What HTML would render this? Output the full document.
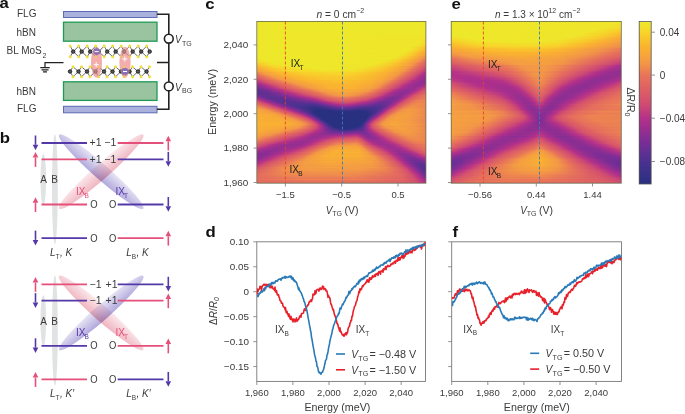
<!DOCTYPE html><html><head><meta charset="utf-8"><style>
html,body{margin:0;padding:0;background:#fff;width:685px;height:414px;overflow:hidden}
#w{position:relative;width:685px;height:414px}
.hm{position:absolute}
.hm i{display:block;height:1px}
svg{position:absolute;left:0;top:0}
text{font-family:"Liberation Sans",sans-serif}
</style></head><body><div id="w"><div class="hm" style="left:257px;top:21px;width:169px;height:162px"><i style="background:linear-gradient(90deg,#eee82a 0.5px,#eee82a 168.5px)"></i><i style="background:linear-gradient(90deg,#eee82a 0.5px,#eee82a 168.5px)"></i><i style="background:linear-gradient(90deg,#eee82a 0.5px,#eee82a 168.5px)"></i><i style="background:linear-gradient(90deg,#eee82a 0.5px,#eee82a 168.5px)"></i><i style="background:linear-gradient(90deg,#eee82a 0.5px,#eee82a 168.5px)"></i><i style="background:linear-gradient(90deg,#eee82a 0.5px,#eee82a 168.5px)"></i><i style="background:linear-gradient(90deg,#eee82a 0.5px,#eee82a 168.5px)"></i><i style="background:linear-gradient(90deg,#eee82a 0.5px,#eee82a 168.5px)"></i><i style="background:linear-gradient(90deg,#eee82a 0.5px,#eee82a 168.5px)"></i><i style="background:linear-gradient(90deg,#eee82a 0.5px,#eee82a 168.5px)"></i><i style="background:linear-gradient(90deg,#eee82a 0.5px,#eee82a 168.5px)"></i><i style="background:linear-gradient(90deg,#eee82a 0.5px,#eee82a 168.5px)"></i><i style="background:linear-gradient(90deg,#eee82a 0.5px,#eee82a 168.5px)"></i><i style="background:linear-gradient(90deg,#eee82a 0.5px,#efe52a 168.5px)"></i><i style="background:linear-gradient(90deg,#eee82a 0.5px,#efe62a 168.5px)"></i><i style="background:linear-gradient(90deg,#eee82a 0.5px,#efe62a 168.5px)"></i><i style="background:linear-gradient(90deg,#eee82a 0.5px,#efe62a 165.5px,#f1e22a 168.5px)"></i><i style="background:linear-gradient(90deg,#eee82a 0.5px,#efe52a 166.5px,#f1e22a 168.5px)"></i><i style="background:linear-gradient(90deg,#eee82a 0.5px,#efe62a 163.5px,#f3de2a 168.5px)"></i><i style="background:linear-gradient(90deg,#eee82a 0.5px,#efe62a 163.5px,#f3dd2a 168.5px)"></i><i style="background:linear-gradient(90deg,#eee82a 0.5px,#efe62a 161.5px,#f5da2a 168.5px)"></i><i style="background:linear-gradient(90deg,#eee82a 0.5px,#efe62a 162.5px,#f5da2a 168.5px)"></i><i style="background:linear-gradient(90deg,#eee82a 0.5px,#efe52a 160.5px,#f7d52a 168.5px)"></i><i style="background:linear-gradient(90deg,#eee82a 0.5px,#efe62a 160.5px,#f7d52a 168.5px)"></i><i style="background:linear-gradient(90deg,#eee82a 0.5px,#efe52a 159.5px,#f8d02b 168.5px)"></i><i style="background:linear-gradient(90deg,#eee82a 0.5px,#efe62a 157.5px,#f8cd2b 167.5px,#f8c92b 168.5px)"></i><i style="background:linear-gradient(90deg,#eee82a 0.5px,#efe62a 153.5px,#f8cc2b 164.5px,#fabe2d 168.5px)"></i><i style="background:linear-gradient(90deg,#eee82a 0.5px,#efe52a 154.5px,#f8cc2b 164.5px,#fabc2d 168.5px)"></i><i style="background:linear-gradient(90deg,#eee82a 0.5px,#efe72a 152.5px,#f8ca2b 163.5px,#fbb62e 168.5px)"></i><i style="background:linear-gradient(90deg,#eee82a 0.5px,#efe62a 151.5px,#f8cc2b 161.5px,#fab231 168.5px)"></i><i style="background:linear-gradient(90deg,#eee82a 0.5px,#efe62a 148.5px,#f8c92b 159.5px,#fab032 166.5px,#f8aa37 168.5px)"></i><i style="background:linear-gradient(90deg,#eee82a 0.5px,#efe62a 147.5px,#f8c92b 158.5px,#fab032 165.5px,#f7a73a 168.5px)"></i><i style="background:linear-gradient(90deg,#eee82a 0.5px,#efe52a 145.5px,#f8cc2b 155.5px,#fab032 163.5px,#f5a23e 168.5px)"></i><i style="background:linear-gradient(90deg,#eee82a 0.5px,#efe52a 143.5px,#f8ca2b 154.5px,#f9af33 162.5px,#f49d42 168.5px)"></i><i style="background:linear-gradient(90deg,#eee82a 0.5px,#efe72a 142.5px,#f8cb2b 153.5px,#f9b033 161.5px,#f39b44 168.5px)"></i><i style="background:linear-gradient(90deg,#eee82a 0.5px,#efe52a 139.5px,#f8cb2b 150.5px,#fab032 158.5px,#f19448 167.5px,#f08e4b 168.5px)"></i><i style="background:linear-gradient(90deg,#eee82a 0.5px,#efe62a 137.5px,#f8ca2b 149.5px,#f9b033 157.5px,#f19448 166.5px,#ee884f 168.5px)"></i><i style="background:linear-gradient(90deg,#eee82a 0.5px,#efe72a 135.5px,#f8cc2b 147.5px,#f9af33 156.5px,#f19448 165.5px,#ec8152 168.5px)"></i><i style="background:linear-gradient(90deg,#f1e22a 0.5px,#eee82a 8.5px,#efe62a 131.5px,#f8cb2b 144.5px,#fab032 153.5px,#f29846 162.5px,#e8745a 168.5px)"></i><i style="background:linear-gradient(90deg,#f3de2a 0.5px,#eee82a 9.5px,#efe62a 129.5px,#f8cc2b 142.5px,#f9af33 152.5px,#f29747 161.5px,#e6705c 168.5px)"></i><i style="background:linear-gradient(90deg,#f5d92a 0.5px,#eee82a 12.5px,#efe62a 126.5px,#f8cc2b 140.5px,#fab032 150.5px,#f29548 160.5px,#e66f5c 167.5px,#e46c5e 168.5px)"></i><i style="background:linear-gradient(90deg,#f7d32a 0.5px,#eee82a 15.5px,#efe62a 123.5px,#f8cb2b 138.5px,#fab132 148.5px,#f29746 158.5px,#e7715b 165.5px,#e16761 168.5px)"></i><i style="background:linear-gradient(90deg,#f9c82c 0.5px,#f2e02a 13.5px,#eee82a 24.5px,#efe62a 118.5px,#f8ca2b 135.5px,#f9af33 146.5px,#f29647 156.5px,#e7715b 163.5px,#de6164 168.5px)"></i><i style="background:linear-gradient(90deg,#f9c42c 0.5px,#f4dc2a 12.5px,#eee82a 26.5px,#efe52a 117.5px,#f8c92b 134.5px,#f9b033 145.5px,#f29846 155.5px,#e56f5d 163.5px,#dc5e66 168.5px)"></i><i style="background:linear-gradient(90deg,#fabf2d 0.5px,#f4da2a 13.5px,#eee82a 28.5px,#efe52a 115.5px,#f8c92b 133.5px,#fab032 144.5px,#f39945 154.5px,#e66f5c 162.5px,#da5b68 168.5px)"></i><i style="background:linear-gradient(90deg,#fab230 0.5px,#f6d82a 19.5px,#eee82a 43.5px,#efe52a 106.5px,#f8cb2b 126.5px,#f9b033 140.5px,#f29846 151.5px,#e6705c 159.5px,#d5526d 168.5px)"></i><i style="background:linear-gradient(90deg,#fab132 0.5px,#f6d72a 19.5px,#eee82a 43.5px,#efe52a 106.5px,#f8cc2b 126.5px,#fab032 140.5px,#f29846 151.5px,#e66f5c 159.5px,#d4506e 168.5px)"></i><i style="background:linear-gradient(90deg,#f8aa37 0.5px,#fabf2d 10.5px,#f5d92a 27.5px,#eee82a 58.5px,#efe52a 99.5px,#f8ce2b 121.5px,#f9af33 138.5px,#f39946 149.5px,#e6705c 157.5px,#d24e70 167.5px,#cc4974 168.5px)"></i><i style="background:linear-gradient(90deg,#f6a43d 0.5px,#fabc2d 13.5px,#f6d72a 32.5px,#f0e52a 69.5px,#f2e02a 98.5px,#f8cc2b 118.5px,#fab032 135.5px,#f39946 147.5px,#e6705c 155.5px,#d4506e 165.5px,#c4417b 168.5px)"></i><i style="background:linear-gradient(90deg,#f5a23e 0.5px,#fabb2d 13.5px,#f6d72a 31.5px,#efe52a 67.5px,#f1e12a 97.5px,#f8cc2b 119.5px,#fab032 136.5px,#f39945 147.5px,#e6705c 155.5px,#d14e70 165.5px,#c23f7d 168.5px)"></i><i style="background:linear-gradient(90deg,#f39a45 0.5px,#fbb82e 16.5px,#f7d42a 36.5px,#f2df2a 74.5px,#f5d92a 101.5px,#faba2d 126.5px,#f5a040 142.5px,#f08e4b 147.5px,#e6705c 153.5px,#d24e6f 163.5px,#ba3684 168.5px)"></i><i style="background:linear-gradient(90deg,#ee884e 0.5px,#f49c43 5.5px,#fbb82e 22.5px,#f8d02b 44.5px,#f5d82a 81.5px,#f8cf2b 103.5px,#fab132 128.5px,#f39945 142.5px,#e56e5d 151.5px,#d14e70 161.5px,#af308b 168.5px)"></i><i style="background:linear-gradient(90deg,#eb7f53 0.5px,#f49d43 7.5px,#fbb82e 24.5px,#f8cf2b 46.5px,#f6d72a 83.5px,#f8cc2b 105.5px,#fab032 128.5px,#f39a45 141.5px,#e66f5c 150.5px,#d24e70 160.5px,#b0308b 167.5px,#aa2f8c 168.5px)"></i><i style="background:linear-gradient(90deg,#e8735a 0.5px,#f49c44 9.5px,#fbb82e 27.5px,#f8cd2b 49.5px,#f7d42a 87.5px,#f9c12c 113.5px,#f9ae34 129.5px,#f39a45 140.5px,#e7715b 148.5px,#d04c71 159.5px,#af308b 166.5px,#a42f8d 168.5px)"></i><i style="background:linear-gradient(90deg,#e46c5e 0.5px,#e97857 4.5px,#f39b44 12.5px,#fbb62e 31.5px,#f8ca2b 55.5px,#f8cd2b 92.5px,#fab131 123.5px,#f39a45 138.5px,#e7715b 146.5px,#d14d70 157.5px,#b1308a 164.5px,#9c2f8f 168.5px)"></i><i style="background:linear-gradient(90deg,#e06662 0.5px,#e97758 6.5px,#f49c43 15.5px,#fbb72e 34.5px,#f8ca2b 58.5px,#f8cb2b 93.5px,#fab131 123.5px,#f39a45 137.5px,#e7715b 145.5px,#d04c71 156.5px,#b2308a 163.5px,#982f90 168.5px)"></i><i style="background:linear-gradient(90deg,#dc5e66 0.5px,#ea7b56 10.5px,#f39b44 18.5px,#fbb62e 39.5px,#f9c72c 66.5px,#f9c52c 96.5px,#fab032 121.5px,#f39945 135.5px,#e7715b 143.5px,#d14d71 154.5px,#b3308a 161.5px,#922e91 168.5px)"></i><i style="background:linear-gradient(90deg,#d8576a 0.5px,#ea7957 12.5px,#f49c43 21.5px,#fbb72e 42.5px,#f9c72c 70.5px,#f9c32c 98.5px,#f9af33 121.5px,#f39946 134.5px,#e6705c 142.5px,#d04c72 153.5px,#b2308a 160.5px,#912e92 168.5px)"></i><i style="background:linear-gradient(90deg,#d4506e 0.5px,#e97758 14.5px,#f39b44 23.5px,#fbb62e 44.5px,#f9c62c 71.5px,#f9c22c 99.5px,#f9b032 120.5px,#f39846 133.5px,#e66f5c 141.5px,#ce4a73 152.5px,#b1308a 159.5px,#942e91 167.5px,#912e91 168.5px)"></i><i style="background:linear-gradient(90deg,#c6437a 0.5px,#d7546b 5.5px,#ea7a56 19.5px,#f39c44 28.5px,#fab330 49.5px,#fabf2d 77.5px,#fbb82e 103.5px,#f7a73a 123.5px,#f19448 131.5px,#e6705c 138.5px,#d04c71 149.5px,#b3308a 156.5px,#942e91 164.5px,#8c2e93 168.5px)"></i><i style="background:linear-gradient(90deg,#bd3a82 0.5px,#d6546c 7.5px,#ea7857 21.5px,#f49c43 31.5px,#fbb42f 53.5px,#fac02d 78.5px,#fbb92e 103.5px,#f7a73a 122.5px,#f39846 129.5px,#e6705c 137.5px,#cf4b72 148.5px,#b2308a 155.5px,#962e91 163.5px,#902e92 168.5px)"></i><i style="background:linear-gradient(90deg,#b0308b 0.5px,#d6536c 10.5px,#ea7b56 25.5px,#f49c43 35.5px,#fab32f 58.5px,#fabc2d 85.5px,#f9af33 112.5px,#f39b44 126.5px,#e6705c 135.5px,#cf4b72 146.5px,#b2308a 153.5px,#962e91 161.5px,#912e92 167.5px,#932e91 168.5px)"></i><i style="background:linear-gradient(90deg,#a32f8d 0.5px,#b83486 4.5px,#d5526d 12.5px,#e97758 27.5px,#f39b44 37.5px,#fbb42f 61.5px,#fabc2d 88.5px,#f9ae34 112.5px,#f39b44 125.5px,#e56e5d 134.5px,#d14d71 144.5px,#b0308b 152.5px,#962e90 160.5px,#942e91 165.5px,#9c2f8f 168.5px)"></i><i style="background:linear-gradient(90deg,#922e91 0.5px,#b63387 7.5px,#d6536c 16.5px,#e97758 31.5px,#f39b44 42.5px,#fbb42f 69.5px,#fbb52e 95.5px,#f6a63b 116.5px,#f29548 124.5px,#e7705b 131.5px,#cf4c72 142.5px,#b2308a 149.5px,#962e90 157.5px,#912e91 163.5px,#a32f8e 168.5px)"></i><i style="background:linear-gradient(90deg,#872e94 0.5px,#b43189 9.5px,#d6546c 19.5px,#e97758 34.5px,#f39c44 45.5px,#fab330 70.5px,#fbb42f 95.5px,#f6a53b 115.5px,#f29846 122.5px,#e66f5c 130.5px,#d14e70 140.5px,#b0308b 148.5px,#982e90 155.5px,#932e91 161.5px,#a42f8d 166.5px,#b0308b 168.5px)"></i><i style="background:linear-gradient(90deg,#7c2d96 0.5px,#b53288 12.5px,#d6546c 22.5px,#e97758 37.5px,#f39b44 48.5px,#fab230 71.5px,#fab330 96.5px,#f6a33d 115.5px,#f29547 121.5px,#e7705b 128.5px,#ce4b73 139.5px,#b1308a 146.5px,#992f90 153.5px,#942e91 159.5px,#a52f8d 164.5px,#b63388 167.5px,#ba3784 168.5px)"></i><i style="background:linear-gradient(90deg,#752e95 0.5px,#b43189 14.5px,#d6536c 24.5px,#ea7857 40.5px,#f39b44 51.5px,#fab231 71.5px,#fbb32f 95.5px,#f6a53c 113.5px,#f19548 120.5px,#e6705c 127.5px,#d14d71 137.5px,#af308b 145.5px,#992f90 152.5px,#982f90 158.5px,#ad308b 163.5px,#bc3982 166.5px,#c6437a 168.5px)"></i><i style="background:linear-gradient(90deg,#6d2e94 0.5px,#8f2e92 9.5px,#b43189 17.5px,#d5536d 27.5px,#e97758 43.5px,#f49c43 55.5px,#fab032 72.5px,#fab231 95.5px,#f5a13f 113.5px,#f29548 118.5px,#e56e5d 126.5px,#d24e70 135.5px,#b0308b 143.5px,#992f90 150.5px,#982e90 156.5px,#ac308c 161.5px,#bc3982 164.5px,#d04c71 168.5px)"></i><i style="background:linear-gradient(90deg,#612f93 0.5px,#8a2e93 12.5px,#b73487 22.5px,#d6536c 32.5px,#ea7b56 50.5px,#f49d43 61.5px,#f8ac35 78.5px,#f8aa37 98.5px,#f39946 113.5px,#e56e5d 123.5px,#ce4a73 133.5px,#b3308a 139.5px,#962e90 146.5px,#8f2e92 153.5px,#9f2f8f 158.5px,#b73487 162.5px,#d5516d 168.5px)"></i><i style="background:linear-gradient(90deg,#5e2f92 0.5px,#7f2d96 12.5px,#b4318a 24.5px,#d6536c 35.5px,#ea7957 53.5px,#f49c44 63.5px,#f8ab36 80.5px,#f7a839 98.5px,#f39946 111.5px,#e46c5e 122.5px,#d04c72 131.5px,#af308b 138.5px,#942e91 145.5px,#902e92 152.5px,#a42f8d 157.5px,#b73387 160.5px,#d5526d 166.5px,#d95869 168.5px)"></i><i style="background:linear-gradient(90deg,#5e2f92 0.5px,#782d95 12.5px,#b53288 27.5px,#d6546c 38.5px,#e97658 55.5px,#f49c43 65.5px,#f8ac36 83.5px,#f6a43c 101.5px,#f29846 110.5px,#e56e5d 120.5px,#d34f6f 129.5px,#b3308a 136.5px,#962e90 143.5px,#922e91 150.5px,#a52f8d 155.5px,#b83486 158.5px,#d6536c 164.5px,#dd6065 168.5px)"></i><i style="background:linear-gradient(90deg,#573092 0.5px,#672f93 11.5px,#8b2e93 22.5px,#b63388 32.5px,#d6546c 43.5px,#e97658 60.5px,#f39a45 70.5px,#f6a53c 88.5px,#f29647 105.5px,#e46c5e 117.5px,#d34f6f 126.5px,#b2308a 133.5px,#912e92 140.5px,#882e94 146.5px,#912e92 151.5px,#b73487 157.5px,#d6536c 163.5px,#de6264 168.5px)"></i><i style="background:linear-gradient(90deg,#5c3092 0.5px,#612f93 9.5px,#7e2d96 21.5px,#b73487 35.5px,#d5526d 45.5px,#e97559 62.5px,#f29747 71.5px,#f6a33d 86.5px,#f39946 101.5px,#ec8352 109.5px,#e56d5d 115.5px,#d14d71 125.5px,#af308b 132.5px,#912e92 139.5px,#8a2e93 145.5px,#922e91 149.5px,#b1308a 154.5px,#d4516e 160.5px,#e26960 168.5px)"></i><i style="background:linear-gradient(90deg,#642f93 0.5px,#5d3092 7.5px,#6d2e94 18.5px,#8c2e93 28.5px,#b53288 38.5px,#d5526d 49.5px,#e97659 65.5px,#f0914a 73.5px,#f49e42 82.5px,#f39b44 95.5px,#eb7f53 107.5px,#e46c5e 113.5px,#d14d70 123.5px,#af308b 130.5px,#902e92 137.5px,#882e93 143.5px,#902e92 147.5px,#b63388 153.5px,#d4506e 158.5px,#e46c5e 167.5px,#e56d5d 168.5px)"></i><i style="background:linear-gradient(90deg,#712e95 0.5px,#602f93 7.5px,#692f94 18.5px,#862e94 29.5px,#b63388 41.5px,#d6546c 54.5px,#e97857 68.5px,#f29647 79.5px,#f49c43 89.5px,#f1914a 97.5px,#dc5f66 116.5px,#ce4a73 122.5px,#b2308a 128.5px,#912e92 135.5px,#892e93 141.5px,#942e91 146.5px,#b63388 151.5px,#d4516e 156.5px,#e56e5d 165.5px,#e8725a 168.5px)"></i><i style="background:linear-gradient(90deg,#7e2d96 0.5px,#632f93 7.5px,#5f2f92 15.5px,#712e95 26.5px,#952e91 37.5px,#b53288 45.5px,#d95969 60.5px,#ee884f 79.5px,#f1914a 88.5px,#ec8351 97.5px,#d8566a 116.5px,#cc4875 120.5px,#af308b 126.5px,#8e2e92 133.5px,#842d94 139.5px,#8f2e92 144.5px,#b1308a 149.5px,#d6536c 155.5px,#e56e5d 163.5px,#e97659 168.5px)"></i><i style="background:linear-gradient(90deg,#8d2e92 0.5px,#6a2f94 7.5px,#5b3092 14.5px,#642f93 25.5px,#842d95 37.5px,#b53288 51.5px,#d8576a 63.5px,#e7715b 76.5px,#ec8252 87.5px,#e97758 95.5px,#d95869 112.5px,#cc4875 117.5px,#b0308b 123.5px,#8c2e93 130.5px,#7f2d96 136.5px,#842d94 141.5px,#9a2f90 145.5px,#b3308a 148.5px,#d4516e 153.5px,#e46d5e 161.5px,#e97758 168.5px)"></i><i style="background:linear-gradient(90deg,#a22f8e 0.5px,#762e95 7.5px,#5e2f92 14.5px,#5c3092 23.5px,#712e95 35.5px,#992f90 47.5px,#b63388 56.5px,#d6536c 65.5px,#e46c5e 78.5px,#e8725a 90.5px,#d8576a 109.5px,#cc4875 114.5px,#ad308b 121.5px,#862d94 129.5px,#7b2d96 135.5px,#842d95 140.5px,#a62f8d 145.5px,#b73487 147.5px,#d6546c 152.5px,#e66f5c 160.5px,#ea7b56 168.5px)"></i><i style="background:linear-gradient(90deg,#b63387 0.5px,#762e95 10.5px,#5d2f92 17.5px,#5a3092 26.5px,#6e2e94 38.5px,#932e91 51.5px,#b3308a 59.5px,#d5526d 68.5px,#e36a5f 83.5px,#e16861 94.5px,#d24e6f 109.5px,#af308b 118.5px,#832d95 127.5px,#792d95 133.5px,#7f2d95 138.5px,#982f90 142.5px,#b4318a 145.5px,#d5526d 150.5px,#e66f5c 158.5px,#eb7e54 166.5px,#eb7e54 168.5px)"></i><i style="background:linear-gradient(90deg,#ca4677 0.5px,#b43189 4.5px,#792d96 13.5px,#602f93 20.5px,#5c3092 29.5px,#6f2e94 41.5px,#922e91 55.5px,#b43189 62.5px,#d5526d 71.5px,#e06662 85.5px,#dc5f66 96.5px,#cf4b72 107.5px,#ae308b 116.5px,#802d95 126.5px,#792d96 132.5px,#842d95 137.5px,#a92f8c 142.5px,#b3308a 143.5px,#d6536c 148.5px,#eb7d54 159.5px,#ed8650 166.5px,#ed8550 168.5px)"></i><i style="background:linear-gradient(90deg,#d5516d 0.5px,#af308b 7.5px,#792d95 15.5px,#5c3092 22.5px,#553091 30.5px,#602f93 41.5px,#7e2d96 56.5px,#b63387 67.5px,#d4506e 77.5px,#da5b68 88.5px,#d04c71 99.5px,#b43189 110.5px,#772d95 124.5px,#712e95 130.5px,#7a2d96 135.5px,#962e91 139.5px,#b3308a 142.5px,#d6536c 147.5px,#e7725b 155.5px,#ec8252 161.5px,#ec8152 168.5px)"></i><i style="background:linear-gradient(90deg,#db5c67 0.5px,#d14d71 4.5px,#af308b 10.5px,#782d95 18.5px,#5b3092 25.5px,#523091 33.5px,#662f93 53.5px,#7c2d96 60.5px,#b63388 71.5px,#d34f6f 83.5px,#d24e70 92.5px,#af308b 107.5px,#752e95 121.5px,#6c2e94 127.5px,#762e95 133.5px,#902e92 137.5px,#b73487 141.5px,#d5516d 145.5px,#e7725b 153.5px,#ed8451 159.5px,#ed8451 167.5px,#ec8352 168.5px)"></i><i style="background:linear-gradient(90deg,#e16761 0.5px,#d24e70 7.5px,#b0308b 13.5px,#782d95 21.5px,#5a3092 28.5px,#513091 36.5px,#5e2f92 56.5px,#7e2d96 64.5px,#b0308b 74.5px,#c74479 84.5px,#c5417b 92.5px,#ae308b 101.5px,#912e92 110.5px,#6e2e94 120.5px,#682f93 126.5px,#772d95 132.5px,#952e91 136.5px,#b43189 139.5px,#d4506e 143.5px,#eb7c55 153.5px,#ef8b4d 159.5px,#ed8550 168.5px)"></i><i style="background:linear-gradient(90deg,#e6705c 0.5px,#d04d71 10.5px,#ad308b 16.5px,#752e95 24.5px,#573092 31.5px,#4d3190 39.5px,#4e3191 56.5px,#652f93 63.5px,#872e94 70.5px,#b2308a 81.5px,#b83585 89.5px,#ad308b 95.5px,#912e92 104.5px,#6e2e94 115.5px,#602f93 123.5px,#6b2e94 129.5px,#842d94 133.5px,#b73487 138.5px,#d6536c 142.5px,#ec7f53 152.5px,#ef8c4c 158.5px,#ed8451 168.5px)"></i><i style="background:linear-gradient(90deg,#eb7d55 0.5px,#e36a5f 5.5px,#d04c71 13.5px,#b43189 18.5px,#792d96 26.5px,#583092 33.5px,#4a3190 40.5px,#44318d 57.5px,#523091 63.5px,#862e94 75.5px,#a32f8e 84.5px,#a32f8e 90.5px,#7d2d96 103.5px,#5a3092 119.5px,#5e2f92 125.5px,#6e2e94 129.5px,#872e94 132.5px,#b2308a 136.5px,#d4506e 140.5px,#ec8053 150.5px,#f08f4b 156.5px,#ee884f 166.5px,#ed8551 168.5px)"></i><i style="background:linear-gradient(90deg,#ee894e 0.5px,#e56f5d 6.5px,#d34f6f 15.5px,#b1308b 21.5px,#762e95 29.5px,#503191 37.5px,#44318d 46.5px,#3b3189 58.5px,#4a3190 66.5px,#832d95 81.5px,#8c2e93 87.5px,#802d95 94.5px,#682f94 102.5px,#513091 117.5px,#543091 123.5px,#642f93 127.5px,#872e94 131.5px,#b53288 135.5px,#d5526d 139.5px,#ec8152 149.5px,#f08f4b 155.5px,#ed8550 166.5px,#ec8252 168.5px)"></i><i style="background:linear-gradient(90deg,#f39945 0.5px,#e56d5d 10.5px,#cf4b72 19.5px,#b2308a 24.5px,#772e95 32.5px,#503191 40.5px,#353086 57.5px,#3d318a 65.5px,#742e95 83.5px,#772d95 89.5px,#622f93 97.5px,#563091 103.5px,#4b3190 116.5px,#523091 122.5px,#652f93 126.5px,#8d2e93 130.5px,#b2308a 133.5px,#d5516d 137.5px,#ed8550 147.5px,#f19448 153.5px,#f08e4c 163.5px,#ed8650 168.5px)"></i><i style="background:linear-gradient(90deg,#f49e41 0.5px,#f0914a 5.5px,#e6705c 12.5px,#d4506e 21.5px,#b0308b 27.5px,#742e95 35.5px,#4c3190 43.5px,#2e3083 57.5px,#323085 65.5px,#5b3092 82.5px,#602f93 89.5px,#45318d 101.5px,#44318d 116.5px,#503191 122.5px,#6c2e94 126.5px,#8f2e92 129.5px,#b63388 132.5px,#d6546c 136.5px,#ee884f 146.5px,#f29647 152.5px,#ef8d4c 163.5px,#ed8451 168.5px)"></i><i style="background:linear-gradient(90deg,#f6a53c 0.5px,#f29647 8.5px,#e56f5d 16.5px,#d04c71 25.5px,#b3308a 30.5px,#762e95 38.5px,#47318f 47.5px,#2b3081 58.5px,#2c3082 66.5px,#4e3190 86.5px,#41318c 96.5px,#3a3188 102.5px,#43318d 116.5px,#4f3191 121.5px,#702e94 125.5px,#962e90 128.5px,#b2308a 130.5px,#d6536c 134.5px,#ea7a56 141.5px,#f19548 146.5px,#f49c43 152.5px,#f19249 163.5px,#ee894e 168.5px)"></i><i style="background:linear-gradient(90deg,#f7a839 0.5px,#f39945 10.5px,#e56e5d 19.5px,#cf4b72 28.5px,#b1308a 33.5px,#742e95 41.5px,#44318d 49.5px,#283080 57.5px,#2b3081 72.5px,#3d318a 86.5px,#323085 96.5px,#2c3082 102.5px,#3d318a 115.5px,#4b3190 120.5px,#6f2e94 124.5px,#982f90 127.5px,#b53288 129.5px,#d34f6f 132.5px,#ed8551 141.5px,#f39945 146.5px,#f39a45 157.5px,#ee884f 168.5px)"></i><i style="background:linear-gradient(90deg,#f7a938 0.5px,#f39b44 12.5px,#ea7957 19.5px,#d34f6f 30.5px,#af308b 36.5px,#772d95 43.5px,#45318d 50.5px,#283080 57.5px,#2b3082 82.5px,#2b3081 91.5px,#293081 108.5px,#49318f 119.5px,#702e94 123.5px,#8b2e93 125.5px,#b83586 128.5px,#d5526d 131.5px,#ea7a56 138.5px,#f29548 143.5px,#f49c43 150.5px,#f19249 161.5px,#ed8650 168.5px)"></i><i style="background:linear-gradient(90deg,#f8ac36 0.5px,#f49e41 14.5px,#f1914a 18.5px,#e56e5d 25.5px,#d4506e 33.5px,#b0308b 39.5px,#752e95 46.5px,#43318d 52.5px,#283080 57.5px,#2a3081 110.5px,#493190 118.5px,#742e95 122.5px,#b1308b 126.5px,#d24e6f 129.5px,#ec8152 137.5px,#f39a45 142.5px,#f49d42 153.5px,#ee8a4e 167.5px,#ee884f 168.5px)"></i><i style="background:linear-gradient(90deg,#f8ac36 0.5px,#f5a13f 15.5px,#f19448 20.5px,#e66f5c 27.5px,#d24e70 36.5px,#b43189 41.5px,#752e95 48.5px,#46318e 53.5px,#283080 58.5px,#293081 111.5px,#48318f 117.5px,#752e95 121.5px,#b3308a 125.5px,#d4506e 128.5px,#eb7c55 135.5px,#f39846 140.5px,#f49e42 149.5px,#f1914a 161.5px,#ed8550 168.5px)"></i><i style="background:linear-gradient(90deg,#f9af33 0.5px,#f7a63b 16.5px,#f29846 23.5px,#e56e5d 31.5px,#d4506e 39.5px,#ae308b 45.5px,#792d96 50.5px,#45318e 55.5px,#293081 59.5px,#2b3081 111.5px,#4c3190 116.5px,#7c2d96 120.5px,#ac308c 123.5px,#d04d71 126.5px,#e87459 132.5px,#f19349 136.5px,#f49f41 140.5px,#f49f41 152.5px,#f08e4b 165.5px,#ee894e 168.5px)"></i><i style="background:linear-gradient(90deg,#f9ae34 0.5px,#f7a73a 17.5px,#f29548 26.5px,#e6705c 33.5px,#d24e6f 42.5px,#b1308b 47.5px,#782d95 52.5px,#41318c 57.5px,#293081 60.5px,#283080 110.5px,#43318d 114.5px,#722e95 118.5px,#9f2f8e 121.5px,#af308b 122.5px,#d34f6f 125.5px,#ee884f 133.5px,#f39b44 137.5px,#f5a040 147.5px,#f19448 160.5px,#ed8650 168.5px)"></i><i style="background:linear-gradient(90deg,#f9b033 0.5px,#f8aa38 19.5px,#f29747 29.5px,#e56e5d 37.5px,#d24e6f 45.5px,#b63288 49.5px,#792d96 54.5px,#47318e 58.5px,#283080 62.5px,#2a3081 110.5px,#503191 114.5px,#882e94 118.5px,#b63387 121.5px,#d6536c 124.5px,#e8745a 129.5px,#f19448 133.5px,#f5a13f 138.5px,#f49f41 152.5px,#ef8b4d 166.5px,#ee874f 168.5px)"></i><i style="background:linear-gradient(90deg,#f9ad35 0.5px,#f7a938 20.5px,#f39a45 30.5px,#e56f5d 39.5px,#d34f6f 47.5px,#b53189 51.5px,#732e95 56.5px,#493190 59.5px,#283080 63.5px,#283080 109.5px,#4e3190 113.5px,#7c2d96 116.5px,#aa308c 119.5px,#c3407c 121.5px,#d6546c 123.5px,#eb7d54 129.5px,#f29846 133.5px,#f5a13f 141.5px,#f29547 157.5px,#ec8252 168.5px)"></i><i style="background:linear-gradient(90deg,#f9b032 0.5px,#f9ad35 22.5px,#f39b44 34.5px,#e56d5d 43.5px,#d24e70 50.5px,#ae308b 54.5px,#732e95 58.5px,#48318f 61.5px,#2c3082 64.5px,#283080 67.5px,#283080 108.5px,#46318e 111.5px,#862d94 115.5px,#b53288 118.5px,#d5516d 121.5px,#e8725a 126.5px,#f29647 130.5px,#f5a23e 135.5px,#f5a13f 148.5px,#f1924a 162.5px,#ee874f 168.5px)"></i><i style="background:linear-gradient(90deg,#f9ad35 0.5px,#f8ab37 24.5px,#f39a45 36.5px,#e56d5d 45.5px,#cf4b72 52.5px,#b43189 55.5px,#782d95 59.5px,#4b3190 62.5px,#2e3083 65.5px,#283080 67.5px,#2b3081 108.5px,#523091 111.5px,#862e94 114.5px,#b73487 117.5px,#d5526d 120.5px,#ea7b56 126.5px,#f39846 130.5px,#f5a23e 138.5px,#f29647 156.5px,#ec8153 168.5px)"></i><i style="background:linear-gradient(90deg,#f8ac35 0.5px,#f8ab37 26.5px,#f39b44 38.5px,#e97758 45.5px,#d5526d 53.5px,#af308b 57.5px,#802d95 60.5px,#45318e 64.5px,#283080 67.5px,#283080 107.5px,#513091 110.5px,#892e93 113.5px,#ad308b 115.5px,#d04c72 118.5px,#e8735a 124.5px,#f19448 128.5px,#f5a03f 133.5px,#f49e42 148.5px,#ee894e 163.5px,#ec8053 168.5px)"></i><i style="background:linear-gradient(90deg,#f9af33 0.5px,#f9ae34 27.5px,#f49c43 41.5px,#ed8451 46.5px,#e46c5e 50.5px,#d5526d 55.5px,#ac308c 59.5px,#7b2d96 62.5px,#4d3190 65.5px,#283080 69.5px,#283080 106.5px,#523091 109.5px,#7a2d96 111.5px,#b3308a 114.5px,#d5516d 117.5px,#ea7a56 123.5px,#f39a45 127.5px,#f6a53b 135.5px,#f39a45 156.5px,#ed8550 168.5px)"></i><i style="background:linear-gradient(90deg,#f9ae34 0.5px,#f9ae34 28.5px,#f49d42 42.5px,#ef8d4c 46.5px,#e56e5d 51.5px,#d6536c 56.5px,#bb3883 59.5px,#af308b 60.5px,#7f2d96 63.5px,#45318d 67.5px,#293080 70.5px,#283080 105.5px,#303084 106.5px,#4c3190 108.5px,#762e95 110.5px,#b1308a 113.5px,#d5516d 116.5px,#e97857 122.5px,#f29846 126.5px,#f6a43d 133.5px,#f49c43 152.5px,#ed8351 168.5px)"></i><i style="background:linear-gradient(90deg,#f9b033 0.5px,#f9af33 29.5px,#f49f41 43.5px,#f0904a 47.5px,#e66f5c 52.5px,#d14d70 58.5px,#b3308a 61.5px,#752e95 65.5px,#493190 68.5px,#283080 72.5px,#283080 104.5px,#2e3083 105.5px,#48318f 107.5px,#862e94 110.5px,#af308b 112.5px,#d4516e 115.5px,#e97758 121.5px,#f29846 125.5px,#f6a53c 132.5px,#f5a040 150.5px,#f08f4b 163.5px,#ed8650 168.5px)"></i><i style="background:linear-gradient(90deg,#fab330 0.5px,#fab132 29.5px,#f5a040 44.5px,#f1914a 48.5px,#e66f5c 53.5px,#d24e6f 59.5px,#b53288 62.5px,#7a2d96 66.5px,#45318e 70.5px,#283080 74.5px,#283080 103.5px,#3a3188 105.5px,#583092 107.5px,#812d95 109.5px,#ab308c 111.5px,#d34f6f 114.5px,#ec8053 121.5px,#f39c44 125.5px,#f7a839 134.5px,#f49f41 155.5px,#ef8c4c 168.5px)"></i><i style="background:linear-gradient(90deg,#f9ae34 0.5px,#f8ab37 28.5px,#f39b44 43.5px,#eb7f54 49.5px,#e36b5f 53.5px,#d04c72 59.5px,#b63388 62.5px,#802d95 66.5px,#4a3190 70.5px,#283080 75.5px,#2a3081 103.5px,#493190 106.5px,#812d95 109.5px,#a92f8c 111.5px,#c4417b 113.5px,#d6546c 115.5px,#eb7d55 122.5px,#f39945 127.5px,#f6a33d 138.5px,#f29747 157.5px,#ed8351 168.5px)"></i><i style="background:linear-gradient(90deg,#f9ae34 0.5px,#f8a938 27.5px,#f39a45 42.5px,#e97857 49.5px,#d5526d 58.5px,#b0308b 63.5px,#7c2d96 67.5px,#4c3190 71.5px,#283080 77.5px,#283080 101.5px,#45318e 105.5px,#742e95 108.5px,#ab308c 111.5px,#ce4a73 114.5px,#dc5e66 117.5px,#eb7e54 123.5px,#f29846 128.5px,#f5a23e 138.5px,#f29747 157.5px,#ed8451 168.5px)"></i><i style="background:linear-gradient(90deg,#f9af33 0.5px,#f7a839 26.5px,#f29747 41.5px,#e46b5e 51.5px,#d4506e 58.5px,#b2308a 63.5px,#792d96 68.5px,#48318f 73.5px,#293080 79.5px,#293081 98.5px,#45318d 104.5px,#5b3092 106.5px,#892e93 109.5px,#b83586 112.5px,#d4506e 115.5px,#ed8451 125.5px,#f39a45 130.5px,#f6a23e 142.5px,#f29647 159.5px,#ed8650 168.5px)"></i><i style="background:linear-gradient(90deg,#f9af34 0.5px,#f7a73a 24.5px,#f29647 38.5px,#e06662 51.5px,#ce4a73 58.5px,#b1308b 63.5px,#752e95 69.5px,#4c3190 74.5px,#2c3082 82.5px,#283080 90.5px,#323085 96.5px,#4d3190 104.5px,#7a2d96 108.5px,#b43189 112.5px,#d5516d 116.5px,#ea7a56 125.5px,#f39a45 132.5px,#f5a23e 144.5px,#f29548 160.5px,#ee874f 168.5px)"></i><i style="background:linear-gradient(90deg,#f9ad35 0.5px,#f6a43d 23.5px,#f19448 34.5px,#da5b68 52.5px,#cf4c72 56.5px,#b1308a 62.5px,#782d95 69.5px,#4b3190 76.5px,#333085 85.5px,#373087 92.5px,#513091 103.5px,#642f93 106.5px,#842d95 109.5px,#b53288 113.5px,#d34f6f 117.5px,#ea7957 127.5px,#f29846 134.5px,#f5a040 145.5px,#f29548 159.5px,#ed8550 168.5px)"></i><i style="background:linear-gradient(90deg,#f8ac36 0.5px,#f5a13f 22.5px,#f0904a 31.5px,#e26960 45.5px,#d04c72 54.5px,#b0308b 61.5px,#762e95 70.5px,#4d3190 79.5px,#41318c 87.5px,#4d3190 95.5px,#5b3092 101.5px,#632f93 105.5px,#802d95 109.5px,#b53289 114.5px,#d5526d 119.5px,#ea7a56 129.5px,#f29747 136.5px,#f49e41 146.5px,#f19548 159.5px,#ed8550 168.5px)"></i><i style="background:linear-gradient(90deg,#f8ac36 0.5px,#f49f41 21.5px,#ef8d4c 29.5px,#e56e5d 40.5px,#d04c71 52.5px,#b3308a 59.5px,#752e95 72.5px,#573091 84.5px,#593092 90.5px,#6f2e94 100.5px,#6d2e94 105.5px,#792d95 108.5px,#b53288 115.5px,#d4516e 120.5px,#eb7c55 131.5px,#f39946 138.5px,#f49e42 150.5px,#f19249 162.5px,#ee884f 168.5px)"></i><i style="background:linear-gradient(90deg,#f8aa37 0.5px,#f39b44 20.5px,#e66f5c 35.5px,#d5526d 48.5px,#b3308a 57.5px,#7a2d96 73.5px,#6a2e94 86.5px,#7c2d96 96.5px,#812d95 100.5px,#752e95 106.5px,#7d2d96 109.5px,#b2308a 116.5px,#d5526d 122.5px,#ea7c55 133.5px,#f29747 140.5px,#f49d43 150.5px,#f1914a 162.5px,#ee874f 168.5px)"></i><i style="background:linear-gradient(90deg,#f7a63b 0.5px,#f29746 16.5px,#e66f5c 30.5px,#d24e70 46.5px,#b2308a 54.5px,#972e90 62.5px,#812d95 74.5px,#7e2d96 88.5px,#922e91 99.5px,#792d95 106.5px,#7a2d96 109.5px,#9c2f8f 115.5px,#b3308a 118.5px,#d5516d 124.5px,#ea7c55 136.5px,#f19349 143.5px,#f29846 152.5px,#ec8352 168.5px)"></i><i style="background:linear-gradient(90deg,#f6a53b 0.5px,#f29647 14.5px,#e56e5d 27.5px,#d04c71 44.5px,#af308b 53.5px,#992f90 60.5px,#902e92 73.5px,#992f90 89.5px,#a92f8c 99.5px,#962e90 103.5px,#812d95 107.5px,#802d95 110.5px,#9d2f8f 116.5px,#b2308a 119.5px,#d6536c 126.5px,#eb7e54 138.5px,#f19448 145.5px,#f29846 154.5px,#ed8550 168.5px)"></i><i style="background:linear-gradient(90deg,#f6a33e 0.5px,#f19448 11.5px,#e66f5c 23.5px,#d04c72 41.5px,#b2308a 50.5px,#9b2f8f 57.5px,#982f90 67.5px,#aa2f8c 83.5px,#b73487 94.5px,#ba3784 99.5px,#ae308b 102.5px,#8a2e93 107.5px,#832d95 110.5px,#912e92 115.5px,#b53288 121.5px,#d6546c 128.5px,#eb7d54 140.5px,#f19249 147.5px,#f29547 156.5px,#ed8550 168.5px)"></i><i style="background:linear-gradient(90deg,#f49e42 0.5px,#f08f4b 8.5px,#e56e5d 19.5px,#ce4b73 37.5px,#ad308b 48.5px,#962e90 56.5px,#992f90 64.5px,#b73487 79.5px,#c64379 99.5px,#b43189 103.5px,#8c2e93 108.5px,#832d95 111.5px,#8e2e92 116.5px,#b53288 123.5px,#d6536c 130.5px,#ee874f 146.5px,#f0914a 154.5px,#ec8252 168.5px)"></i><i style="background:linear-gradient(90deg,#f49c43 0.5px,#eb7d54 11.5px,#e36b5f 18.5px,#ce4a73 34.5px,#ae308b 46.5px,#992f90 54.5px,#9c2f8f 61.5px,#b53288 71.5px,#ca4677 82.5px,#d5526d 99.5px,#ca4677 102.5px,#b53288 105.5px,#942e91 109.5px,#8b2e93 112.5px,#922e91 117.5px,#b53289 124.5px,#d5526d 131.5px,#eb7c55 144.5px,#f08f4b 151.5px,#f08f4b 161.5px,#ed8650 168.5px)"></i><i style="background:linear-gradient(90deg,#f1914a 0.5px,#e56e5d 12.5px,#ce4a73 29.5px,#ae308b 42.5px,#972e90 51.5px,#992f90 58.5px,#b63288 68.5px,#d4506e 81.5px,#d95a69 99.5px,#d4506e 102.5px,#ae308b 107.5px,#962e90 110.5px,#8b2e93 114.5px,#932e91 119.5px,#b43189 126.5px,#d6546c 134.5px,#ed8451 150.5px,#ef8c4d 158.5px,#ec8252 168.5px)"></i><i style="background:linear-gradient(90deg,#ef8d4c 0.5px,#e6705c 9.5px,#cf4b72 26.5px,#b1308a 39.5px,#9a2f90 50.5px,#a02f8e 57.5px,#b73487 64.5px,#d6536c 75.5px,#dd5f65 86.5px,#e06562 99.5px,#d5516d 104.5px,#b63387 108.5px,#9b2f8f 112.5px,#942e91 117.5px,#a22f8e 123.5px,#b53289 127.5px,#d6536c 135.5px,#ed8550 151.5px,#f08e4b 159.5px,#ee874f 168.5px)"></i><i style="background:linear-gradient(90deg,#eb7f54 0.5px,#e56e5d 6.5px,#cf4b72 22.5px,#b1308a 34.5px,#982e90 47.5px,#9c2f8f 54.5px,#b53289 61.5px,#d6546c 72.5px,#e06562 82.5px,#e46c5e 99.5px,#d95969 104.5px,#c84478 107.5px,#b1308a 110.5px,#9b2f8f 114.5px,#952e91 119.5px,#a32f8e 125.5px,#b83586 130.5px,#d7556b 138.5px,#ed8351 154.5px,#ee884f 163.5px,#ed8351 168.5px)"></i><i style="background:linear-gradient(90deg,#e8725a 0.5px,#d04c72 18.5px,#b0308b 30.5px,#972e90 44.5px,#9b2f8f 51.5px,#b63388 59.5px,#d6546c 69.5px,#e46c5e 81.5px,#e8735a 99.5px,#de6164 104.5px,#d34f6f 107.5px,#b63288 111.5px,#9e2f8f 116.5px,#992f90 122.5px,#ac308c 129.5px,#bc3982 133.5px,#d7556b 140.5px,#ec8053 156.5px,#ed8550 165.5px,#ec8252 168.5px)"></i><i style="background:linear-gradient(90deg,#e36b5f 0.5px,#d04c71 14.5px,#af308b 26.5px,#982e90 38.5px,#962e90 47.5px,#a92f8c 54.5px,#b63387 57.5px,#d6536c 66.5px,#e7715b 79.5px,#ec8252 98.5px,#e26860 104.5px,#d4516e 108.5px,#b43189 113.5px,#9c2f8f 119.5px,#9a2f8f 125.5px,#af308b 132.5px,#cc4875 139.5px,#da5b68 144.5px,#eb7e54 159.5px,#eb7f54 168.5px)"></i><i style="background:linear-gradient(90deg,#e06562 0.5px,#cf4b72 11.5px,#b1308a 22.5px,#9a2f90 33.5px,#972e90 44.5px,#a82f8d 51.5px,#b83586 55.5px,#d6536c 63.5px,#ed8451 81.5px,#f0914a 98.5px,#ed8650 101.5px,#d14e70 110.5px,#b2308a 116.5px,#9e2f8f 122.5px,#9e2f8f 128.5px,#b43189 135.5px,#d7556b 144.5px,#e97758 158.5px,#eb7f53 166.5px,#eb7e54 168.5px)"></i><i style="background:linear-gradient(90deg,#da5b68 0.5px,#ce4a73 7.5px,#b1308a 17.5px,#962e91 28.5px,#912e92 40.5px,#a12f8e 48.5px,#b63388 53.5px,#d5526d 61.5px,#ea7a56 75.5px,#ef8d4c 82.5px,#f29747 98.5px,#ee874f 102.5px,#e36b5f 106.5px,#cc4875 112.5px,#af308b 118.5px,#9b2f8f 124.5px,#9c2f8f 131.5px,#b43189 138.5px,#d5526d 146.5px,#e66f5c 158.5px,#e97758 168.5px)"></i><i style="background:linear-gradient(90deg,#d7556b 0.5px,#b1308a 14.5px,#962e90 25.5px,#932e91 36.5px,#a12f8e 45.5px,#b53288 50.5px,#d7556b 59.5px,#ea7957 71.5px,#f29647 79.5px,#f49f41 98.5px,#f29548 102.5px,#e56d5d 107.5px,#cd4974 114.5px,#b3308a 120.5px,#9d2f8f 127.5px,#9d2f8f 133.5px,#b53288 140.5px,#d6536c 148.5px,#e66f5c 160.5px,#e97658 168.5px)"></i><i style="background:linear-gradient(90deg,#d34f6f 0.5px,#af308b 12.5px,#972e90 23.5px,#972e90 34.5px,#ab308c 44.5px,#b93685 48.5px,#d7556b 56.5px,#e97758 67.5px,#f39a45 75.5px,#f6a53c 89.5px,#f6a33d 100.5px,#f29647 104.5px,#e7715b 108.5px,#d04c71 116.5px,#b3308a 123.5px,#a02f8e 130.5px,#a22f8e 136.5px,#b83586 142.5px,#d7556b 150.5px,#e66f5c 161.5px,#e97758 168.5px)"></i><i style="background:linear-gradient(90deg,#c4407c 0.5px,#ae308b 7.5px,#922e91 18.5px,#8f2e92 28.5px,#a22f8e 40.5px,#b63387 46.5px,#d6536c 54.5px,#ea7957 66.5px,#f39b45 74.5px,#f6a53c 88.5px,#f5a23e 101.5px,#f39945 104.5px,#e66f5c 109.5px,#cc4875 118.5px,#b3308a 124.5px,#9a2f8f 131.5px,#992f90 137.5px,#ae308b 143.5px,#bf3c7f 147.5px,#d6546c 153.5px,#e46c5e 164.5px,#e6705c 168.5px)"></i><i style="background:linear-gradient(90deg,#bf3c80 0.5px,#ad308b 6.5px,#972e90 16.5px,#972e90 26.5px,#b0308b 39.5px,#c94577 47.5px,#d8586a 52.5px,#ea7a56 62.5px,#f39b44 69.5px,#f8ab37 81.5px,#f8aa37 101.5px,#f39c44 106.5px,#e7715b 111.5px,#cd4a74 121.5px,#b1308a 128.5px,#9d2f8f 135.5px,#a12f8e 140.5px,#b43189 145.5px,#d7556b 154.5px,#e56e5d 165.5px,#e7715b 168.5px)"></i><i style="background:linear-gradient(90deg,#b0308b 0.5px,#932e91 10.5px,#8d2e92 20.5px,#a12f8e 32.5px,#b73487 40.5px,#d7556b 50.5px,#ea7b56 61.5px,#f49c43 69.5px,#f8aa37 82.5px,#f7a938 101.5px,#f29746 107.5px,#e87459 111.5px,#ce4a73 122.5px,#af308b 129.5px,#982f90 135.5px,#962e90 140.5px,#a92f8c 146.5px,#b73487 149.5px,#d6546c 157.5px,#e36b5f 168.5px)"></i><i style="background:linear-gradient(90deg,#a92f8c 0.5px,#932e91 10.5px,#952e91 20.5px,#b63288 34.5px,#da5a68 48.5px,#ea7857 57.5px,#f39b44 64.5px,#f9af33 78.5px,#f9af33 101.5px,#f49d42 108.5px,#e7725b 114.5px,#d24e70 124.5px,#b3308a 131.5px,#9c2f8f 137.5px,#9a2f90 142.5px,#ae308b 148.5px,#c3407c 153.5px,#d6546c 158.5px,#e36a5f 168.5px)"></i><i style="background:linear-gradient(90deg,#9a2f90 0.5px,#8b2e93 9.5px,#922e91 19.5px,#b63388 32.5px,#d95869 46.5px,#ea7a56 56.5px,#f39b44 63.5px,#f9ae34 78.5px,#f8ac36 102.5px,#f39b44 109.5px,#e7725b 115.5px,#d34f6f 125.5px,#b2308a 132.5px,#972e90 138.5px,#922e91 143.5px,#a32f8e 149.5px,#b63387 153.5px,#d6536c 161.5px,#df6463 168.5px)"></i><i style="background:linear-gradient(90deg,#932e91 0.5px,#8c2e93 9.5px,#9b2f8f 19.5px,#b63387 28.5px,#d6546c 41.5px,#ea7957 53.5px,#f39b44 60.5px,#f9af33 75.5px,#fab032 101.5px,#f5a040 109.5px,#ef8d4c 113.5px,#e66f5c 118.5px,#cf4b72 128.5px,#b1308a 134.5px,#972e90 140.5px,#932e91 145.5px,#a42f8d 151.5px,#b73486 155.5px,#d6546c 163.5px,#dd6065 168.5px)"></i><i style="background:linear-gradient(90deg,#8a2e93 0.5px,#8a2e93 9.5px,#a32f8d 20.5px,#b73486 26.5px,#d6536c 38.5px,#e97658 51.5px,#f39a45 58.5px,#f9af34 74.5px,#f9af33 101.5px,#f59f41 110.5px,#ee874f 115.5px,#e7705b 119.5px,#d04d71 129.5px,#b1308a 135.5px,#942e91 141.5px,#8d2e93 146.5px,#9b2f8f 152.5px,#b43189 157.5px,#d5526d 165.5px,#da5a68 168.5px)"></i><i style="background:linear-gradient(90deg,#802d95 0.5px,#872e94 9.5px,#ac308c 21.5px,#bd3982 26.5px,#d6546c 36.5px,#e97758 50.5px,#f39b44 58.5px,#f9ad35 75.5px,#f8ab37 103.5px,#f39945 112.5px,#e6705c 120.5px,#d04c71 130.5px,#af308b 136.5px,#8e2e92 142.5px,#842d94 147.5px,#8c2e93 152.5px,#b43189 160.5px,#d5516d 168.5px)"></i><i style="background:linear-gradient(90deg,#832d95 0.5px,#922e91 9.5px,#b53289 19.5px,#d6546c 31.5px,#e87459 46.5px,#f39b44 54.5px,#f9ae34 69.5px,#fab132 99.5px,#f6a53c 110.5px,#f19448 116.5px,#e66f5c 123.5px,#d24e70 132.5px,#b0308b 138.5px,#902e92 144.5px,#872e94 149.5px,#942e91 155.5px,#b3308a 161.5px,#d14d71 168.5px)"></i><i style="background:linear-gradient(90deg,#832d95 0.5px,#9c2f8f 10.5px,#b73487 17.5px,#d6546c 28.5px,#e97658 44.5px,#f49c43 53.5px,#f9ae34 68.5px,#f9b033 100.5px,#f5a23e 112.5px,#f29548 117.5px,#e7715b 124.5px,#d4506e 133.5px,#b2308a 139.5px,#8f2e92 145.5px,#832d95 150.5px,#8a2e93 155.5px,#aa308c 162.5px,#be3b80 166.5px,#c74379 168.5px)"></i><i style="background:linear-gradient(90deg,#812d95 0.5px,#a52f8d 11.5px,#b63388 15.5px,#d6546c 26.5px,#e97858 43.5px,#f39b44 52.5px,#f8ab36 68.5px,#f8ab36 102.5px,#f39a45 116.5px,#e6705c 125.5px,#d34f6f 134.5px,#b0308b 140.5px,#8b2e93 146.5px,#7c2d96 151.5px,#7f2d95 156.5px,#9e2f8f 163.5px,#b53288 167.5px,#ba3684 168.5px)"></i><i style="background:linear-gradient(90deg,#842d94 0.5px,#b43189 12.5px,#d6536c 23.5px,#ea7957 41.5px,#f49c43 51.5px,#f8ab37 68.5px,#f7a938 104.5px,#f39946 117.5px,#e56e5d 127.5px,#cf4b72 136.5px,#b2308a 141.5px,#852d94 148.5px,#772d95 153.5px,#7e2d96 159.5px,#a72f8d 167.5px,#ad308b 168.5px)"></i><i style="background:linear-gradient(90deg,#8b2e93 0.5px,#b53288 10.5px,#d6536c 20.5px,#ea7b56 39.5px,#f49d43 50.5px,#f8aa37 68.5px,#f7a839 105.5px,#f39846 118.5px,#e46c5e 129.5px,#d14d71 137.5px,#b3308a 142.5px,#842d94 149.5px,#742e95 154.5px,#762e95 159.5px,#8d2e93 165.5px,#9e2f8f 168.5px)"></i><i style="background:linear-gradient(90deg,#912e92 0.5px,#b53288 8.5px,#d6536c 18.5px,#eb7e54 38.5px,#f49d42 50.5px,#f7a839 71.5px,#f6a33d 108.5px,#f29548 119.5px,#e46b5e 130.5px,#d14d71 138.5px,#b3308a 143.5px,#812d95 150.5px,#6f2e94 155.5px,#6e2e94 160.5px,#822d95 166.5px,#8d2e92 168.5px)"></i><i style="background:linear-gradient(90deg,#a02f8e 0.5px,#b73487 5.5px,#d5526d 14.5px,#eb7d54 33.5px,#f49d43 46.5px,#f8aa38 66.5px,#f7a63b 107.5px,#f29747 121.5px,#e06562 134.5px,#d04c71 140.5px,#b2308a 145.5px,#802d95 152.5px,#6f2e94 157.5px,#6f2e94 162.5px,#842d94 168.5px)"></i><i style="background:linear-gradient(90deg,#a62f8d 0.5px,#b93685 4.5px,#d6546c 13.5px,#ec8252 34.5px,#f49d43 47.5px,#f7a73a 71.5px,#f5a13f 110.5px,#f29647 120.5px,#dd6065 136.5px,#cf4b72 141.5px,#af308b 146.5px,#7c2d96 153.5px,#662f93 159.5px,#672f93 164.5px,#742e95 168.5px)"></i><i style="background:linear-gradient(90deg,#b3308a 0.5px,#d6536c 10.5px,#eb7d55 29.5px,#f49c43 45.5px,#f7a63b 70.5px,#f5a040 111.5px,#f29548 121.5px,#e97758 130.5px,#d14d71 142.5px,#b2308a 147.5px,#7c2d96 154.5px,#642f93 160.5px,#622f93 165.5px,#6a2f94 168.5px)"></i><i style="background:linear-gradient(90deg,#ba3784 0.5px,#d6536c 8.5px,#eb7e54 28.5px,#f39c44 45.5px,#f6a33d 76.5px,#f39c44 114.5px,#ee894e 125.5px,#d95a69 140.5px,#cb4776 144.5px,#b2308a 148.5px,#742e95 156.5px,#5d3092 162.5px,#5d3092 167.5px,#5f2f92 168.5px)"></i><i style="background:linear-gradient(90deg,#c3407c 0.5px,#d6546c 6.5px,#eb7f54 26.5px,#f39a45 42.5px,#f5a23e 74.5px,#f39b44 114.5px,#ee884f 126.5px,#da5a68 141.5px,#cc4875 145.5px,#b43189 149.5px,#742e95 157.5px,#5a3092 163.5px,#573092 168.5px)"></i><i style="background:linear-gradient(90deg,#cb4776 0.5px,#d95969 6.5px,#ef8c4c 32.5px,#f49c43 49.5px,#f49d43 102.5px,#f1924a 119.5px,#ea7b55 130.5px,#d5526d 144.5px,#b43189 150.5px,#792d96 157.5px,#593092 163.5px,#503191 168.5px)"></i><i style="background:linear-gradient(90deg,#d5526d 0.5px,#ec8152 21.5px,#f39a45 36.5px,#f5a23e 73.5px,#f39a45 116.5px,#ed8451 130.5px,#d7566b 145.5px,#c6427a 149.5px,#b3308a 152.5px,#782d95 159.5px,#593092 165.5px,#523091 168.5px)"></i><i style="background:linear-gradient(90deg,#d7566b 0.5px,#ee884f 25.5px,#f39b44 44.5px,#f39c44 101.5px,#ef8c4d 123.5px,#e06562 141.5px,#cf4c72 148.5px,#b1308b 153.5px,#752e95 160.5px,#533091 166.5px,#4d3190 168.5px)"></i><i style="background:linear-gradient(90deg,#db5c67 0.5px,#f08e4b 26.5px,#f49c43 46.5px,#f39b44 104.5px,#ee874f 127.5px,#dd6065 144.5px,#d24e70 149.5px,#b43189 154.5px,#782d95 161.5px,#543091 167.5px,#503191 168.5px)"></i><i style="background:linear-gradient(90deg,#dd5f65 0.5px,#ef8d4c 27.5px,#f39a45 55.5px,#f29747 102.5px,#ec8152 128.5px,#dc5f66 145.5px,#d14d71 150.5px,#b3308a 155.5px,#762e95 162.5px,#503191 168.5px)"></i><i style="background:linear-gradient(90deg,#de6264 0.5px,#ef8b4d 28.5px,#f29647 62.5px,#f19249 101.5px,#ea7c55 129.5px,#dc5d66 146.5px,#d04c72 151.5px,#b2308a 156.5px,#752e95 163.5px,#523091 168.5px)"></i><i style="background:linear-gradient(90deg,#e06662 0.5px,#ee8a4e 27.5px,#f19448 64.5px,#f08f4b 102.5px,#e97857 131.5px,#dd6065 146.5px,#d04c71 152.5px,#b43189 157.5px,#762e95 164.5px,#583092 168.5px)"></i><i style="background:linear-gradient(90deg,#e26860 0.5px,#ee884f 28.5px,#f0904a 72.5px,#ee8a4e 105.5px,#e46c5e 140.5px,#d6546c 151.5px,#c03c7f 156.5px,#ac308c 159.5px,#762e95 165.5px,#5f2f92 168.5px)"></i><i style="background:linear-gradient(90deg,#e36b5f 0.5px,#ee874f 27.5px,#f08f4b 75.5px,#ee874f 107.5px,#e16761 144.5px,#d04d71 154.5px,#ae308b 160.5px,#782d95 166.5px,#682f94 168.5px)"></i><i style="background:linear-gradient(90deg,#e46b5e 0.5px,#ed8451 29.5px,#ee8a4e 87.5px,#e97758 123.5px,#e06562 145.5px,#d4506e 154.5px,#ad308b 161.5px,#782d95 167.5px,#6f2e94 168.5px)"></i><i style="background:linear-gradient(90deg,#e46c5e 0.5px,#ec8252 32.5px,#ed8550 93.5px,#e16661 144.5px,#d34f6f 155.5px,#ae308b 162.5px,#782d95 168.5px)"></i><i style="background:linear-gradient(90deg,#e46b5e 0.5px,#eb7e54 41.5px,#eb7e54 97.5px,#df6363 145.5px,#d04c71 156.5px,#b3308a 162.5px,#7f2d96 168.5px)"></i><i style="background:linear-gradient(90deg,#e46c5e 0.5px,#eb7d54 46.5px,#ea7b55 98.5px,#df6463 145.5px,#d4506e 156.5px,#b43189 163.5px,#8a2e93 168.5px)"></i><i style="background:linear-gradient(90deg,#e66f5c 0.5px,#ec8053 40.5px,#ec8053 97.5px,#df6463 147.5px,#d34f6e 158.5px,#b3308a 165.5px,#9a2f90 168.5px)"></i><i style="background:linear-gradient(90deg,#e46b5e 0.5px,#e97857 66.5px,#e7725b 106.5px,#de6164 146.5px,#d14d70 158.5px,#b4318a 165.5px,#9c2f8f 168.5px)"></i><i style="background:linear-gradient(90deg,#e36a5f 0.5px,#e8735a 62.5px,#e46d5e 118.5px,#db5d67 149.5px,#cf4b72 159.5px,#b2308a 166.5px,#a32f8e 168.5px)"></i><i style="background:linear-gradient(90deg,#e36b5f 0.5px,#e87459 72.5px,#e26960 129.5px,#d95969 153.5px,#d04c72 160.5px,#ad308b 168.5px)"></i></div><div class="hm" style="left:451px;top:21px;width:170px;height:162px"><i style="background:linear-gradient(90deg,#eee82a 0.5px,#eee82a 169.5px)"></i><i style="background:linear-gradient(90deg,#eee82a 0.5px,#efe52a 165.5px,#f0e32a 169.5px)"></i><i style="background:linear-gradient(90deg,#eee82a 0.5px,#efe52a 166.5px,#f0e32a 169.5px)"></i><i style="background:linear-gradient(90deg,#eee82a 0.5px,#efe52a 161.5px,#f2e02a 169.5px)"></i><i style="background:linear-gradient(90deg,#eee82a 0.5px,#efe52a 154.5px,#f4dc2a 169.5px)"></i><i style="background:linear-gradient(90deg,#eee82a 0.5px,#efe52a 159.5px,#f3de2a 169.5px)"></i><i style="background:linear-gradient(90deg,#eee82a 0.5px,#efe52a 153.5px,#f5da2a 169.5px)"></i><i style="background:linear-gradient(90deg,#eee82a 0.5px,#efe52a 150.5px,#f6d72a 169.5px)"></i><i style="background:linear-gradient(90deg,#eee82a 0.5px,#efe52a 145.5px,#f8d02b 169.5px)"></i><i style="background:linear-gradient(90deg,#eee82a 0.5px,#efe52a 145.5px,#f8ce2b 169.5px)"></i><i style="background:linear-gradient(90deg,#eee82a 0.5px,#efe52a 138.5px,#f8ce2b 164.5px,#f9c72c 169.5px)"></i><i style="background:linear-gradient(90deg,#eee82a 0.5px,#efe52a 136.5px,#f8cd2b 162.5px,#f9c22c 169.5px)"></i><i style="background:linear-gradient(90deg,#eee82a 0.5px,#efe52a 129.5px,#f8cf2b 156.5px,#faba2d 169.5px)"></i><i style="background:linear-gradient(90deg,#eee82a 0.5px,#efe52a 125.5px,#f8ce2b 153.5px,#fbb52e 169.5px)"></i><i style="background:linear-gradient(90deg,#eee82a 0.5px,#efe52a 129.5px,#f8cd2b 154.5px,#fbb52e 169.5px)"></i><i style="background:linear-gradient(90deg,#f0e42a 0.5px,#eee82a 18.5px,#efe52a 119.5px,#f8ce2b 147.5px,#f9b033 168.5px,#f9ae34 169.5px)"></i><i style="background:linear-gradient(90deg,#f1e12a 0.5px,#eee82a 15.5px,#f0e52a 118.5px,#f8ce2b 145.5px,#f9af33 166.5px,#f8ac36 169.5px)"></i><i style="background:linear-gradient(90deg,#f4dc2a 0.5px,#eee82a 21.5px,#efe52a 112.5px,#f8cd2b 141.5px,#f9af33 162.5px,#f7a839 169.5px)"></i><i style="background:linear-gradient(90deg,#f6d72a 0.5px,#eee82a 28.5px,#f0e52a 107.5px,#f8cc2b 137.5px,#f9af33 158.5px,#f6a43c 169.5px)"></i><i style="background:linear-gradient(90deg,#f7d22a 0.5px,#efe72a 31.5px,#efe52a 101.5px,#f8cc2b 133.5px,#f9b032 154.5px,#f5a13f 169.5px)"></i><i style="background:linear-gradient(90deg,#f8cf2b 0.5px,#f0e42a 28.5px,#eee82a 79.5px,#f2df2a 109.5px,#f9c82c 134.5px,#f9af33 153.5px,#f5a040 169.5px)"></i><i style="background:linear-gradient(90deg,#f9c72c 0.5px,#f4db2a 22.5px,#efe52a 66.5px,#f3dd2a 105.5px,#f9c42c 131.5px,#f9ad35 150.5px,#f39b44 169.5px)"></i><i style="background:linear-gradient(90deg,#f9c12c 0.5px,#f5d92a 25.5px,#f1e22a 70.5px,#f5d92a 106.5px,#fab032 143.5px,#f29846 169.5px)"></i><i style="background:linear-gradient(90deg,#fabc2d 0.5px,#f6d72a 29.5px,#f3de2a 76.5px,#f7d52a 107.5px,#fab032 140.5px,#f19349 169.5px)"></i><i style="background:linear-gradient(90deg,#fab92d 0.5px,#f7d62a 31.5px,#f4dc2a 78.5px,#f7d32a 106.5px,#fab032 138.5px,#f1914a 169.5px)"></i><i style="background:linear-gradient(90deg,#fab330 0.5px,#f8d12b 35.5px,#f6d72a 78.5px,#f8cf2b 103.5px,#f9af33 134.5px,#f19249 164.5px,#ef8b4d 169.5px)"></i><i style="background:linear-gradient(90deg,#f9af33 0.5px,#f9c62c 28.5px,#f7d22a 68.5px,#f8ca2b 101.5px,#f9af33 129.5px,#f19349 159.5px,#ed8551 169.5px)"></i><i style="background:linear-gradient(90deg,#f8aa37 0.5px,#fabd2d 26.5px,#f8ca2b 66.5px,#f9c32c 100.5px,#f9ae34 124.5px,#f19349 154.5px,#eb7c55 169.5px)"></i><i style="background:linear-gradient(90deg,#f6a53b 0.5px,#faba2d 34.5px,#f9c32c 75.5px,#fab92d 103.5px,#f19448 148.5px,#e87459 169.5px)"></i><i style="background:linear-gradient(90deg,#f6a53b 0.5px,#faba2d 34.5px,#f9c32c 75.5px,#fab92d 103.5px,#f19448 149.5px,#e97559 169.5px)"></i><i style="background:linear-gradient(90deg,#f5a23e 0.5px,#fbb72e 40.5px,#fabd2d 80.5px,#fab032 111.5px,#f19448 146.5px,#e7715b 169.5px)"></i><i style="background:linear-gradient(90deg,#f49c43 0.5px,#fab132 39.5px,#fbb52e 87.5px,#f6a33e 124.5px,#f19249 142.5px,#e6705c 165.5px,#e46d5e 169.5px)"></i><i style="background:linear-gradient(90deg,#f39946 0.5px,#f9ae34 35.5px,#fab330 86.5px,#f5a23e 123.5px,#f19249 140.5px,#e66f5c 163.5px,#e36a5f 169.5px)"></i><i style="background:linear-gradient(90deg,#f19249 0.5px,#f5a13f 14.5px,#fab132 63.5px,#f8ab37 104.5px,#f19448 136.5px,#e66f5c 160.5px,#e16761 169.5px)"></i><i style="background:linear-gradient(90deg,#ef8a4e 0.5px,#f49d43 13.5px,#f9ae34 60.5px,#f7a938 103.5px,#f19349 133.5px,#e66f5c 157.5px,#df6463 169.5px)"></i><i style="background:linear-gradient(90deg,#ec8252 0.5px,#f49c43 17.5px,#f8ac36 69.5px,#f6a53c 107.5px,#f19349 130.5px,#e56e5d 155.5px,#dd6065 169.5px)"></i><i style="background:linear-gradient(90deg,#e97559 0.5px,#f29746 21.5px,#f7a839 68.5px,#f5a13f 106.5px,#f1914a 125.5px,#e46d5e 151.5px,#da5a68 169.5px)"></i><i style="background:linear-gradient(90deg,#e8725a 0.5px,#f29747 22.5px,#f7a938 70.5px,#f5a23e 107.5px,#f19249 126.5px,#e56d5d 150.5px,#d95869 169.5px)"></i><i style="background:linear-gradient(90deg,#e36a5f 0.5px,#eb7f53 16.5px,#f29747 39.5px,#f6a33d 78.5px,#f39a45 110.5px,#e36b5f 146.5px,#d4506e 169.5px)"></i><i style="background:linear-gradient(90deg,#e26860 0.5px,#eb7f54 17.5px,#f29747 39.5px,#f6a53c 78.5px,#f39b44 111.5px,#e36a5f 146.5px,#d14e70 169.5px)"></i><i style="background:linear-gradient(90deg,#df6363 0.5px,#eb7f54 23.5px,#f39b44 54.5px,#f5a23e 86.5px,#f29647 112.5px,#e46c5e 141.5px,#cf4c72 166.5px,#ca4776 169.5px)"></i><i style="background:linear-gradient(90deg,#dd5f65 0.5px,#ec8152 30.5px,#f59f41 65.5px,#f49f41 98.5px,#f19249 114.5px,#e56e5d 137.5px,#cf4b72 163.5px,#c5417b 169.5px)"></i><i style="background:linear-gradient(90deg,#db5c67 0.5px,#ef8c4c 47.5px,#f49e41 64.5px,#f5a13f 94.5px,#f19448 112.5px,#e56d5d 136.5px,#ce4a73 161.5px,#c03d7f 169.5px)"></i><i style="background:linear-gradient(90deg,#d8566a 0.5px,#ed8451 47.5px,#f49d43 66.5px,#f59f41 94.5px,#f19448 109.5px,#e56d5d 133.5px,#cf4b72 157.5px,#ba3784 169.5px)"></i><i style="background:linear-gradient(90deg,#d24e70 0.5px,#e56e5d 34.5px,#e97857 49.5px,#f29846 70.5px,#f39a45 94.5px,#ed8351 113.5px,#e56e5d 127.5px,#d04c71 151.5px,#b0308b 168.5px,#ae308b 169.5px)"></i><i style="background:linear-gradient(90deg,#cb4776 0.5px,#d8586a 13.5px,#e97758 53.5px,#f19448 71.5px,#f39a45 88.5px,#ef8c4d 105.5px,#e56d5d 124.5px,#cf4b72 148.5px,#af308b 164.5px,#a62f8d 169.5px)"></i><i style="background:linear-gradient(90deg,#ca4677 0.5px,#d8576a 14.5px,#e97758 53.5px,#f39846 71.5px,#f49d43 92.5px,#f19249 104.5px,#e56e5d 124.5px,#d04c71 147.5px,#b0308b 163.5px,#a62f8d 169.5px)"></i><i style="background:linear-gradient(90deg,#c13e7e 0.5px,#d7556b 19.5px,#e87459 57.5px,#f19448 74.5px,#f39945 90.5px,#ee884e 105.5px,#e66f5c 119.5px,#cf4c72 143.5px,#af308b 158.5px,#9c2f8f 169.5px)"></i><i style="background:linear-gradient(90deg,#be3b80 0.5px,#d7556b 22.5px,#e8735a 58.5px,#f29647 75.5px,#f39b45 91.5px,#ee894e 105.5px,#e66f5c 118.5px,#d04c72 141.5px,#af308b 156.5px,#9a2f90 169.5px)"></i><i style="background:linear-gradient(90deg,#bc3982 0.5px,#d7556b 26.5px,#e56e5d 56.5px,#f39945 78.5px,#f39946 95.5px,#eb7e54 109.5px,#e46c5e 119.5px,#d04c72 139.5px,#af308b 154.5px,#9a2f90 167.5px,#992f90 169.5px)"></i><i style="background:linear-gradient(90deg,#b43189 0.5px,#d6546c 34.5px,#e16761 56.5px,#eb7c55 68.5px,#f19249 80.5px,#f19349 92.5px,#eb7d54 105.5px,#e46d5e 114.5px,#cf4b73 135.5px,#b1308a 148.5px,#952e91 162.5px,#912e92 169.5px)"></i><i style="background:linear-gradient(90deg,#b1308b 0.5px,#c74479 24.5px,#d6546c 42.5px,#e56d5d 63.5px,#ec8053 72.5px,#f1924a 83.5px,#f0904a 93.5px,#ea7857 105.5px,#cf4b72 132.5px,#b0308b 145.5px,#952e91 158.5px,#8f2e92 169.5px)"></i><i style="background:linear-gradient(90deg,#b43189 0.5px,#c84478 26.5px,#d8566a 47.5px,#ea7a56 69.5px,#f19448 80.5px,#f39946 90.5px,#ed8451 102.5px,#e56e5d 111.5px,#d04c72 131.5px,#af308b 145.5px,#972e90 158.5px,#962e91 169.5px)"></i><i style="background:linear-gradient(90deg,#b3308a 0.5px,#c03c7f 23.5px,#db5c67 55.5px,#ea7a56 71.5px,#f19349 81.5px,#f29746 90.5px,#ec8053 102.5px,#e56e5d 109.5px,#d04c71 128.5px,#af308b 142.5px,#962e90 155.5px,#952e91 167.5px,#972e90 169.5px)"></i><i style="background:linear-gradient(90deg,#b3308a 0.5px,#b83585 20.5px,#d6536c 52.5px,#e97758 72.5px,#f0904b 81.5px,#f29647 90.5px,#eb7f54 101.5px,#e46b5e 109.5px,#cf4b72 126.5px,#b0308b 139.5px,#952e91 152.5px,#942e91 164.5px,#9a2f90 169.5px)"></i><i style="background:linear-gradient(90deg,#b53288 0.5px,#b53189 18.5px,#cf4b73 50.5px,#e97758 73.5px,#f0904a 82.5px,#f29547 90.5px,#ea7c55 101.5px,#e16761 110.5px,#ce4b73 124.5px,#af308b 137.5px,#962e90 149.5px,#932e91 160.5px,#9f2f8f 169.5px)"></i><i style="background:linear-gradient(90deg,#b63388 0.5px,#b0308b 17.5px,#bf3b80 42.5px,#d14d70 55.5px,#e97758 75.5px,#f08f4b 84.5px,#f19249 90.5px,#ea7957 100.5px,#cf4b72 121.5px,#b1308a 133.5px,#942e91 146.5px,#902e92 157.5px,#a22f8e 169.5px)"></i><i style="background:linear-gradient(90deg,#b83586 0.5px,#ad308b 15.5px,#b83586 41.5px,#c84478 54.5px,#d95869 63.5px,#ea7b55 78.5px,#f08f4b 87.5px,#ee884e 93.5px,#e36b5f 104.5px,#d04c71 118.5px,#b1308a 130.5px,#922e91 143.5px,#8e2e92 154.5px,#a42f8d 168.5px,#a62f8d 169.5px)"></i><i style="background:linear-gradient(90deg,#be3b81 0.5px,#b0308b 15.5px,#b43189 36.5px,#c13e7e 52.5px,#d95869 64.5px,#e97758 77.5px,#f0914a 86.5px,#f08f4b 91.5px,#e36a5f 104.5px,#d04c72 117.5px,#b0308b 129.5px,#952e91 141.5px,#912e91 152.5px,#a72f8d 165.5px,#b1308b 169.5px)"></i><i style="background:linear-gradient(90deg,#c13e7e 0.5px,#b0308b 15.5px,#ad308b 33.5px,#b63387 49.5px,#cf4b72 61.5px,#ea7c55 80.5px,#f08f4b 88.5px,#ed8550 93.5px,#e46d5e 101.5px,#ce4a73 115.5px,#b0308b 126.5px,#922e91 139.5px,#8f2e92 150.5px,#a62f8d 163.5px,#b53288 169.5px)"></i><i style="background:linear-gradient(90deg,#c5417b 0.5px,#b1308a 15.5px,#a82f8c 33.5px,#b2308a 50.5px,#c84478 61.5px,#d8576a 68.5px,#ec7f53 83.5px,#ef8b4d 88.5px,#ec8053 93.5px,#e16761 102.5px,#ce4a74 113.5px,#b0308b 123.5px,#922e91 135.5px,#8c2e93 146.5px,#9f2f8f 158.5px,#b63388 167.5px,#ba3784 169.5px)"></i><i style="background:linear-gradient(90deg,#ce4a73 0.5px,#b3308a 20.5px,#ac308c 40.5px,#b73487 54.5px,#d95869 69.5px,#ea7b56 81.5px,#f08e4b 87.5px,#ef8b4d 91.5px,#e56e5d 99.5px,#cf4b72 112.5px,#b2308a 122.5px,#952e91 134.5px,#912e91 144.5px,#a52f8d 156.5px,#b73487 163.5px,#c4407c 169.5px)"></i><i style="background:linear-gradient(90deg,#d34f6f 0.5px,#b43189 21.5px,#a92f8c 41.5px,#af308b 53.5px,#c03c7f 61.5px,#d7566b 70.5px,#eb7c55 83.5px,#ef8c4d 88.5px,#ed8351 92.5px,#e6705c 97.5px,#cf4b72 110.5px,#b0308b 120.5px,#952e91 131.5px,#8f2e92 141.5px,#a02f8e 152.5px,#b73486 161.5px,#c94577 169.5px)"></i><i style="background:linear-gradient(90deg,#d6546c 0.5px,#b43189 25.5px,#a82f8c 45.5px,#b1308a 56.5px,#ca4677 66.5px,#dc5e66 74.5px,#eb7e54 84.5px,#ef8b4d 88.5px,#ec8152 92.5px,#e6705c 96.5px,#d14d71 108.5px,#b1308b 118.5px,#962e90 128.5px,#902e92 139.5px,#a22f8e 150.5px,#b73487 158.5px,#d04c71 169.5px)"></i><i style="background:linear-gradient(90deg,#d8576a 0.5px,#c3407c 14.5px,#b0308b 28.5px,#a32f8e 48.5px,#ac308b 58.5px,#bc3883 64.5px,#d95969 74.5px,#ea7b56 85.5px,#ed8451 88.5px,#eb7e54 91.5px,#e56e5d 95.5px,#d14d71 106.5px,#b1308a 115.5px,#942e91 125.5px,#8c2e93 135.5px,#9a2f8f 146.5px,#b63388 156.5px,#d4506e 169.5px)"></i><i style="background:linear-gradient(90deg,#db5c67 0.5px,#cd4974 12.5px,#b1308b 31.5px,#a22f8e 51.5px,#ad308b 60.5px,#bd3982 66.5px,#d95869 75.5px,#e97857 85.5px,#ec8252 88.5px,#ea7b56 91.5px,#e16661 97.5px,#d04c72 105.5px,#b3308a 113.5px,#942e91 123.5px,#8c2e93 133.5px,#9c2f8f 144.5px,#b53288 153.5px,#d6536c 168.5px,#d7546b 169.5px)"></i><i style="background:linear-gradient(90deg,#dd6065 0.5px,#ce4a73 14.5px,#b1308a 33.5px,#a02f8e 53.5px,#a92f8c 61.5px,#b73487 66.5px,#d8576a 76.5px,#eb7d55 88.5px,#e97658 91.5px,#d24e6f 103.5px,#b3308a 111.5px,#952e91 120.5px,#8b2e93 130.5px,#992f90 141.5px,#b53288 151.5px,#d6546c 166.5px,#d95869 169.5px)"></i><i style="background:linear-gradient(90deg,#e06462 0.5px,#cf4b73 17.5px,#b2308a 36.5px,#9f2f8e 55.5px,#a92f8c 63.5px,#b83586 68.5px,#d6546c 76.5px,#ea7a56 88.5px,#db5c67 98.5px,#cd4974 103.5px,#b0308b 110.5px,#932e91 119.5px,#8b2e93 128.5px,#9a2f90 139.5px,#b63387 149.5px,#d6536c 163.5px,#db5c67 169.5px)"></i><i style="background:linear-gradient(90deg,#e36a5f 0.5px,#cf4b72 21.5px,#b2308a 41.5px,#a02f8e 57.5px,#ab308c 65.5px,#bb3883 70.5px,#d7556b 77.5px,#ea7857 88.5px,#da5a68 98.5px,#ce4a73 102.5px,#b0308b 109.5px,#932e91 118.5px,#8e2e92 127.5px,#9f2f8e 138.5px,#b63387 146.5px,#d6546c 160.5px,#de6164 169.5px)"></i><i style="background:linear-gradient(90deg,#e46c5e 0.5px,#cf4b72 23.5px,#b1308a 43.5px,#9d2f8f 58.5px,#a62f8d 66.5px,#b73486 71.5px,#d6536c 78.5px,#e7725b 88.5px,#e36a5f 92.5px,#d04d71 100.5px,#b0308b 107.5px,#932e91 115.5px,#8a2e93 124.5px,#9a2f8f 135.5px,#b53288 144.5px,#d6536c 158.5px,#df6363 169.5px)"></i><i style="background:linear-gradient(90deg,#e7725b 0.5px,#d04c72 27.5px,#ae308b 49.5px,#9e2f8f 60.5px,#a72f8d 67.5px,#b83586 72.5px,#d6546c 79.5px,#e7715b 88.5px,#e26960 92.5px,#d24e70 99.5px,#b1308b 106.5px,#942e91 114.5px,#8d2e92 123.5px,#a02f8e 134.5px,#b53288 141.5px,#d6546c 155.5px,#e26860 169.5px)"></i><i style="background:linear-gradient(90deg,#e97758 0.5px,#ce4a73 31.5px,#ae308b 51.5px,#9d2f8f 61.5px,#a52f8d 68.5px,#b73487 73.5px,#d6546c 80.5px,#e56f5d 88.5px,#e06662 92.5px,#d14e70 98.5px,#af308b 105.5px,#952e91 112.5px,#8d2e93 120.5px,#9b2f8f 130.5px,#b53288 139.5px,#d6536c 152.5px,#e36a5f 169.5px)"></i><i style="background:linear-gradient(90deg,#ec8352 0.5px,#e56d5d 11.5px,#cd4974 37.5px,#ad308b 55.5px,#a02f8e 63.5px,#a92f8c 70.5px,#b93685 74.5px,#d7556b 81.5px,#e56e5d 88.5px,#e06562 92.5px,#cf4b72 98.5px,#b2308a 104.5px,#9a2f90 110.5px,#902e92 118.5px,#9f2f8e 128.5px,#b63387 136.5px,#d6546c 149.5px,#e66f5c 169.5px)"></i><i style="background:linear-gradient(90deg,#eb7f54 0.5px,#e36a5f 13.5px,#ce4a73 36.5px,#af308b 53.5px,#972e90 63.5px,#9c2f8f 70.5px,#b63387 76.5px,#d7546b 83.5px,#e16761 88.5px,#db5d67 92.5px,#c84578 97.5px,#b43189 101.5px,#952e91 107.5px,#882e94 114.5px,#902e92 123.5px,#b63388 136.5px,#d6536c 149.5px,#e46d5e 169.5px)"></i><i style="background:linear-gradient(90deg,#ef8b4d 0.5px,#e56e5d 15.5px,#ce4b73 42.5px,#b0308b 56.5px,#9d2f8f 64.5px,#9e2f8f 70.5px,#b53288 76.5px,#d6536c 83.5px,#e16661 88.5px,#de6164 91.5px,#cc4875 96.5px,#b3308a 101.5px,#972e90 107.5px,#8d2e92 114.5px,#992f90 123.5px,#b53289 132.5px,#d6536c 145.5px,#e56f5d 165.5px,#e7725b 169.5px)"></i><i style="background:linear-gradient(90deg,#ef8d4c 0.5px,#e56e5d 17.5px,#cf4b72 44.5px,#af308b 57.5px,#9a2f90 65.5px,#9a2f8f 71.5px,#ad308b 76.5px,#bd3982 79.5px,#d8586a 85.5px,#de6264 88.5px,#db5c67 91.5px,#ca4677 95.5px,#af308b 100.5px,#932e91 106.5px,#8b2e93 113.5px,#992f90 122.5px,#b63388 131.5px,#d6546c 144.5px,#e56f5d 164.5px,#e7725b 169.5px)"></i><i style="background:linear-gradient(90deg,#f0914a 0.5px,#e56d5d 21.5px,#cf4b72 47.5px,#ad308b 59.5px,#982f90 67.5px,#9c2f8f 73.5px,#b3308a 78.5px,#d95969 86.5px,#dc5e66 89.5px,#d14d71 93.5px,#af308b 99.5px,#922e91 105.5px,#8b2e93 112.5px,#9c2f8f 121.5px,#b63387 129.5px,#d6546c 142.5px,#e66f5c 162.5px,#e8745a 169.5px)"></i><i style="background:linear-gradient(90deg,#f0904a 0.5px,#e46c5e 23.5px,#d04c72 48.5px,#af308b 59.5px,#962e91 67.5px,#952e91 73.5px,#a92f8c 78.5px,#b93685 81.5px,#d6536c 86.5px,#d95869 89.5px,#d04c71 92.5px,#b1308a 97.5px,#912e91 103.5px,#872e94 109.5px,#922e91 117.5px,#b63387 128.5px,#d6536c 140.5px,#e56e5d 160.5px,#e8735a 169.5px)"></i><i style="background:linear-gradient(90deg,#f29647 0.5px,#e97857 19.5px,#d34f6f 50.5px,#af308b 61.5px,#962e90 69.5px,#962e90 74.5px,#aa308c 79.5px,#bb3784 82.5px,#d4506e 86.5px,#d7566b 89.5px,#d34f6f 91.5px,#b3308a 96.5px,#932e91 102.5px,#892e93 108.5px,#962e90 116.5px,#b53288 125.5px,#d6546c 138.5px,#e56e5d 157.5px,#e97758 169.5px)"></i><i style="background:linear-gradient(90deg,#f39b44 0.5px,#ed8550 17.5px,#e56e5d 30.5px,#d4516e 52.5px,#af308b 63.5px,#992f90 70.5px,#992f90 75.5px,#ad308b 80.5px,#bc3982 83.5px,#d5516d 87.5px,#d5516d 90.5px,#b53288 95.5px,#962e90 101.5px,#8c2e93 106.5px,#992f90 114.5px,#b73487 123.5px,#d6546c 135.5px,#e66f5c 154.5px,#eb7d55 169.5px)"></i><i style="background:linear-gradient(90deg,#f39b44 0.5px,#ed8650 18.5px,#e56e5d 32.5px,#d6546c 52.5px,#be3a81 60.5px,#ae308b 64.5px,#962e90 71.5px,#962e91 76.5px,#aa308c 81.5px,#bc3883 84.5px,#d24e70 88.5px,#c84578 91.5px,#b43189 94.5px,#932e91 100.5px,#8a2e93 105.5px,#952e91 112.5px,#b53288 121.5px,#d6536c 133.5px,#e66f5c 152.5px,#ea7c55 169.5px)"></i><i style="background:linear-gradient(90deg,#f49c43 0.5px,#f08e4b 16.5px,#e66f5c 35.5px,#d7566b 53.5px,#c74479 59.5px,#b0308b 65.5px,#962e90 72.5px,#952e91 77.5px,#aa2f8c 82.5px,#b73487 84.5px,#cc4875 88.5px,#c3407c 91.5px,#b53288 93.5px,#972e90 98.5px,#8b2e93 103.5px,#942e91 110.5px,#b53288 119.5px,#d6536c 131.5px,#e66f5c 150.5px,#eb7d54 169.5px)"></i><i style="background:linear-gradient(90deg,#f49d43 0.5px,#f1914a 16.5px,#e66f5c 38.5px,#d8576a 54.5px,#cc4875 59.5px,#b0308b 66.5px,#952e91 73.5px,#942e91 78.5px,#a92f8c 83.5px,#b73486 85.5px,#c6427a 88.5px,#bd3a82 91.5px,#ae308b 93.5px,#922e91 98.5px,#8a2e93 103.5px,#982f90 110.5px,#b73487 118.5px,#d6536c 129.5px,#e66f5c 148.5px,#eb7d54 169.5px)"></i><i style="background:linear-gradient(90deg,#f59f40 0.5px,#f29548 19.5px,#e56e5d 44.5px,#d7566b 57.5px,#c84578 62.5px,#b0308b 68.5px,#962e91 75.5px,#9a2f90 80.5px,#ad308b 84.5px,#c33f7d 88.5px,#ba3784 91.5px,#ab308c 93.5px,#962e91 97.5px,#8e2e92 102.5px,#9d2f8f 109.5px,#b53288 115.5px,#d6536c 126.5px,#e6705c 145.5px,#ec8252 166.5px,#ec8252 169.5px)"></i><i style="background:linear-gradient(90deg,#f49e41 0.5px,#f19448 20.5px,#dd6065 54.5px,#d04c71 61.5px,#b3308a 68.5px,#942e91 75.5px,#942e91 80.5px,#a42f8d 84.5px,#b83586 87.5px,#b83486 90.5px,#a22f8e 93.5px,#902e92 97.5px,#8c2e93 102.5px,#a42f8d 110.5px,#b83585 115.5px,#d6536c 125.5px,#e6705c 144.5px,#eb7f53 167.5px,#ec8053 169.5px)"></i><i style="background:linear-gradient(90deg,#f39b44 0.5px,#f08e4b 22.5px,#de6164 54.5px,#d24e70 61.5px,#ae308b 69.5px,#8e2e92 76.5px,#8e2e92 81.5px,#992f90 84.5px,#b1308b 88.5px,#ac308b 90.5px,#8d2e92 95.5px,#852d94 100.5px,#942e91 106.5px,#b73487 114.5px,#d5526d 124.5px,#e56d5d 142.5px,#ea7a56 169.5px)"></i><i style="background:linear-gradient(90deg,#f49e42 0.5px,#f19448 23.5px,#e16661 54.5px,#d24e70 63.5px,#b3308a 70.5px,#942e91 76.5px,#8f2e92 81.5px,#9e2f8f 85.5px,#ad308b 88.5px,#a92f8c 90.5px,#912e92 94.5px,#892e93 99.5px,#992f90 105.5px,#b43189 111.5px,#d5526d 121.5px,#e56e5d 139.5px,#eb7e54 163.5px,#eb7e54 169.5px)"></i><i style="background:linear-gradient(90deg,#f49c43 0.5px,#f19349 23.5px,#e36a5f 53.5px,#d14d71 64.5px,#b0308b 71.5px,#902e92 77.5px,#8b2e93 82.5px,#9b2f8f 86.5px,#a22f8e 89.5px,#882e94 95.5px,#892e93 100.5px,#a52f8d 107.5px,#b83586 111.5px,#d5526d 120.5px,#e56d5d 138.5px,#ea7b56 165.5px,#ea7b56 169.5px)"></i><i style="background:linear-gradient(90deg,#f39a45 0.5px,#f08e4b 27.5px,#e26860 55.5px,#d04c72 65.5px,#b43189 71.5px,#902e92 77.5px,#872e94 82.5px,#922e91 86.5px,#992f90 89.5px,#832d95 95.5px,#892e93 100.5px,#b3308a 109.5px,#d5526d 119.5px,#e46c5e 136.5px,#e97758 167.5px,#e97758 169.5px)"></i><i style="background:linear-gradient(90deg,#f49f41 0.5px,#f29647 30.5px,#eb7c55 49.5px,#d7556b 65.5px,#be3b81 71.5px,#ad308b 74.5px,#932e91 79.5px,#8e2e92 84.5px,#992f90 89.5px,#8a2e93 94.5px,#902e92 99.5px,#b63387 107.5px,#d6536c 116.5px,#e56e5d 132.5px,#eb7f54 155.5px,#ec8053 169.5px)"></i><i style="background:linear-gradient(90deg,#f5a23e 0.5px,#f29846 36.5px,#ec8252 51.5px,#d5516d 68.5px,#b1308a 75.5px,#972e90 80.5px,#902e92 84.5px,#982f90 89.5px,#8e2e92 94.5px,#982f90 99.5px,#b63387 105.5px,#d5526d 113.5px,#e56e5d 128.5px,#ec8352 148.5px,#ed8550 169.5px)"></i><i style="background:linear-gradient(90deg,#f5a040 0.5px,#f29747 36.5px,#ec8351 51.5px,#d6546c 68.5px,#b43189 75.5px,#922e91 81.5px,#8c2e93 85.5px,#8e2e92 90.5px,#8b2e93 94.5px,#992f90 99.5px,#b53288 104.5px,#d5516d 112.5px,#e56d5d 127.5px,#ec8053 149.5px,#ec8252 169.5px)"></i><i style="background:linear-gradient(90deg,#f49e42 0.5px,#f29647 35.5px,#ed8351 51.5px,#d7566b 68.5px,#cd4a74 71.5px,#b1308b 76.5px,#922e91 81.5px,#872e94 85.5px,#892e93 94.5px,#a12f8e 100.5px,#b3308a 103.5px,#d5516d 111.5px,#e46c5e 125.5px,#eb7e54 149.5px,#eb7e54 169.5px)"></i><i style="background:linear-gradient(90deg,#f49e41 0.5px,#f29647 38.5px,#ed8451 52.5px,#d8576a 69.5px,#ce4a73 72.5px,#b0308b 77.5px,#8d2e92 83.5px,#852d94 87.5px,#872e94 93.5px,#a22f8e 99.5px,#b93685 103.5px,#d6536c 110.5px,#e56d5d 124.5px,#eb7e54 146.5px,#eb7f54 169.5px)"></i><i style="background:linear-gradient(90deg,#f5a23e 0.5px,#f39a45 42.5px,#ea7b56 57.5px,#d7566b 71.5px,#c5417b 75.5px,#b4318a 78.5px,#8f2e92 84.5px,#872e94 88.5px,#8d2e92 93.5px,#b3308a 100.5px,#d4516e 107.5px,#e56d5d 120.5px,#ed8451 140.5px,#ed8550 169.5px)"></i><i style="background:linear-gradient(90deg,#f5a040 0.5px,#f39945 39.5px,#ea7957 55.5px,#d7566b 71.5px,#cd4974 74.5px,#af308b 79.5px,#892e93 85.5px,#822d95 89.5px,#8c2e93 93.5px,#b63388 100.5px,#d6536c 107.5px,#e56e5d 120.5px,#ec8152 139.5px,#ec8252 169.5px)"></i><i style="background:linear-gradient(90deg,#f5a040 0.5px,#f39a45 37.5px,#ea7b56 52.5px,#d5526d 72.5px,#b2308a 79.5px,#842d94 86.5px,#802d95 90.5px,#932e91 94.5px,#b4318a 99.5px,#d5516d 106.5px,#e56e5d 120.5px,#ec8152 139.5px,#ec8252 169.5px)"></i><i style="background:linear-gradient(90deg,#f5a040 0.5px,#f39946 36.5px,#ea7b56 50.5px,#d34f6f 72.5px,#b3308a 79.5px,#832d95 86.5px,#7e2d96 89.5px,#872e94 92.5px,#b53288 99.5px,#d5526d 107.5px,#e6705c 123.5px,#ec8152 141.5px,#ec8152 169.5px)"></i><i style="background:linear-gradient(90deg,#f5a040 0.5px,#f39945 34.5px,#eb7e54 47.5px,#e46d5e 55.5px,#d14d70 71.5px,#b2308a 79.5px,#832d95 86.5px,#7d2d96 89.5px,#872e94 92.5px,#b43189 99.5px,#d5516d 108.5px,#e6705c 125.5px,#ec8152 143.5px,#ec8252 169.5px)"></i><i style="background:linear-gradient(90deg,#f5a13f 0.5px,#f39945 34.5px,#eb7e54 46.5px,#e46c5e 54.5px,#d04c72 70.5px,#b1308a 79.5px,#812d95 87.5px,#812d95 90.5px,#b73487 100.5px,#d6536c 110.5px,#e6705c 126.5px,#ec8252 143.5px,#ed8451 169.5px)"></i><i style="background:linear-gradient(90deg,#f5a13f 0.5px,#f39946 32.5px,#eb7e54 44.5px,#e56d5d 51.5px,#cf4c72 68.5px,#b0308b 78.5px,#812d95 87.5px,#802d95 90.5px,#b53288 101.5px,#d6536c 112.5px,#e6705c 128.5px,#ec8252 146.5px,#ed8351 169.5px)"></i><i style="background:linear-gradient(90deg,#f5a040 0.5px,#f39846 30.5px,#eb7e54 42.5px,#e46c5e 49.5px,#cf4b72 66.5px,#b1308a 76.5px,#812d95 87.5px,#812d95 90.5px,#b53288 103.5px,#d6536c 114.5px,#e66f5c 130.5px,#ec8153 149.5px,#ec8252 169.5px)"></i><i style="background:linear-gradient(90deg,#f49e41 0.5px,#f29746 26.5px,#ec8153 38.5px,#e46d5e 46.5px,#cf4b72 63.5px,#af308b 74.5px,#7e2d96 88.5px,#842d94 92.5px,#b73487 106.5px,#d5526d 116.5px,#e56e5d 132.5px,#eb7e54 155.5px,#eb7e54 169.5px)"></i><i style="background:linear-gradient(90deg,#f5a13f 0.5px,#f29846 27.5px,#ec8053 38.5px,#e56d5d 45.5px,#ce4a73 62.5px,#af308b 73.5px,#842d94 88.5px,#8e2e92 94.5px,#b43189 106.5px,#d5526d 117.5px,#e6705c 134.5px,#ec8153 153.5px,#ec8352 169.5px)"></i><i style="background:linear-gradient(90deg,#f49f41 0.5px,#f29647 24.5px,#eb7d55 36.5px,#e36a5f 44.5px,#ce4a73 59.5px,#b0308b 70.5px,#882e94 85.5px,#852d94 91.5px,#a02f8e 103.5px,#b53288 109.5px,#d6546c 120.5px,#e56e5d 136.5px,#eb7e54 159.5px,#eb7f54 169.5px)"></i><i style="background:linear-gradient(90deg,#f5a13f 0.5px,#f39946 24.5px,#eb7c55 36.5px,#de6264 47.5px,#ce4a73 58.5px,#b1308b 69.5px,#932e91 81.5px,#8c2e93 91.5px,#992f90 101.5px,#b63388 110.5px,#d6546c 121.5px,#e7705b 138.5px,#ec8252 157.5px,#ed8451 169.5px)"></i><i style="background:linear-gradient(90deg,#f49d42 0.5px,#f29647 19.5px,#eb7c55 32.5px,#d14d71 53.5px,#b1308a 65.5px,#912e92 77.5px,#8a2e93 87.5px,#8a2e93 98.5px,#9f2f8e 107.5px,#b53288 113.5px,#d6546c 124.5px,#e56e5d 141.5px,#eb7c55 166.5px,#eb7d55 169.5px)"></i><i style="background:linear-gradient(90deg,#f49f41 0.5px,#f29647 19.5px,#ea7957 32.5px,#cf4b72 52.5px,#b0308b 64.5px,#932e91 76.5px,#8f2e92 85.5px,#8f2e92 91.5px,#8c2e93 99.5px,#9f2f8f 108.5px,#b53289 114.5px,#d6536c 125.5px,#e56f5d 142.5px,#eb7f54 165.5px,#ec8053 169.5px)"></i><i style="background:linear-gradient(90deg,#f49f41 0.5px,#f29548 18.5px,#ea7a56 30.5px,#d14d70 49.5px,#af308b 62.5px,#932e91 74.5px,#902e92 83.5px,#972e90 89.5px,#8b2e93 97.5px,#942e91 106.5px,#b53288 116.5px,#d6546c 127.5px,#e56f5d 144.5px,#ec7f53 168.5px,#ec8053 169.5px)"></i><i style="background:linear-gradient(90deg,#f49c43 0.5px,#f19349 15.5px,#e97658 28.5px,#d24e70 46.5px,#b0308b 58.5px,#902e92 72.5px,#8e2e92 82.5px,#9a2f8f 89.5px,#892e93 97.5px,#8d2e92 106.5px,#a72f8d 115.5px,#b73487 119.5px,#d5526d 129.5px,#e56e5d 147.5px,#ea7b56 169.5px)"></i><i style="background:linear-gradient(90deg,#f5a13f 0.5px,#f29747 16.5px,#e97857 28.5px,#d14d71 46.5px,#b1308a 58.5px,#972e90 71.5px,#972e90 81.5px,#a92f8c 89.5px,#932e91 97.5px,#922e91 106.5px,#a82f8c 115.5px,#b63387 119.5px,#d6546c 130.5px,#e7705b 148.5px,#ec8351 168.5px,#ed8351 169.5px)"></i><i style="background:linear-gradient(90deg,#f5a040 0.5px,#f29647 14.5px,#e97758 26.5px,#d04c71 44.5px,#b1308a 55.5px,#972e90 68.5px,#962e90 78.5px,#a62f8d 85.5px,#af308b 89.5px,#952e91 97.5px,#8f2e92 106.5px,#a12f8e 115.5px,#b63387 121.5px,#d6546c 132.5px,#e6705c 150.5px,#ec8152 169.5px)"></i><i style="background:linear-gradient(90deg,#f49c43 0.5px,#f08e4c 13.5px,#e26960 29.5px,#d04c71 41.5px,#b1308a 51.5px,#962e90 63.5px,#912e92 74.5px,#9f2f8e 83.5px,#b3308a 88.5px,#ac308c 91.5px,#942e91 97.5px,#892e93 106.5px,#942e91 114.5px,#b63387 124.5px,#d6536c 135.5px,#e66f5c 154.5px,#ea7b56 169.5px)"></i><i style="background:linear-gradient(90deg,#f49d43 0.5px,#f0914a 11.5px,#e46c5e 26.5px,#cf4b72 40.5px,#b0308b 50.5px,#972e90 62.5px,#952e91 73.5px,#a82f8c 83.5px,#bb3883 88.5px,#b1308b 92.5px,#992f90 98.5px,#8c2e93 107.5px,#942e91 115.5px,#b63388 125.5px,#d5536d 136.5px,#e66f5c 155.5px,#eb7d55 169.5px)"></i><i style="background:linear-gradient(90deg,#f39b44 0.5px,#ed8650 13.5px,#e46b5e 24.5px,#d24e70 37.5px,#b1308a 47.5px,#992f90 57.5px,#932e91 69.5px,#a52f8d 80.5px,#b3308a 84.5px,#c03d7f 88.5px,#b63387 92.5px,#972e90 100.5px,#8b2e93 109.5px,#942e91 117.5px,#b53288 127.5px,#d6546c 139.5px,#e66f5c 158.5px,#ea7a56 169.5px)"></i><i style="background:linear-gradient(90deg,#f0904a 0.5px,#e97758 13.5px,#d34f6f 33.5px,#b1308a 43.5px,#962e91 52.5px,#8b2e93 63.5px,#952e91 74.5px,#ae308b 83.5px,#c23e7e 88.5px,#b73487 92.5px,#9c2f8f 98.5px,#862d94 107.5px,#852d94 115.5px,#9b2f8f 124.5px,#b63387 131.5px,#d6546c 143.5px,#e46d5e 162.5px,#e7715b 169.5px)"></i><i style="background:linear-gradient(90deg,#f29548 0.5px,#ea7957 13.5px,#d14e70 33.5px,#b0308b 43.5px,#982f90 52.5px,#932e91 63.5px,#a12f8e 74.5px,#b53288 81.5px,#cd4a74 88.5px,#c74379 91.5px,#b2308a 96.5px,#922e91 106.5px,#8a2e93 114.5px,#962e90 122.5px,#b53288 131.5px,#d6536c 143.5px,#e56f5d 162.5px,#e87459 169.5px)"></i><i style="background:linear-gradient(90deg,#f0904a 0.5px,#e26960 18.5px,#d04c71 31.5px,#af308b 41.5px,#962e90 50.5px,#922e91 61.5px,#a42f8d 73.5px,#b53288 79.5px,#d4506e 88.5px,#cd4974 91.5px,#b53289 97.5px,#912e92 108.5px,#892e93 116.5px,#982f90 125.5px,#b73487 134.5px,#d6546c 146.5px,#e66f5c 166.5px,#e7725b 169.5px)"></i><i style="background:linear-gradient(90deg,#ef8c4c 0.5px,#e46c5e 14.5px,#d04c72 29.5px,#af308b 39.5px,#962e91 48.5px,#932e91 59.5px,#a62f8d 71.5px,#b63387 77.5px,#d04c71 85.5px,#d7556b 89.5px,#cf4c72 92.5px,#b1308a 100.5px,#902e92 110.5px,#892e93 118.5px,#982f90 127.5px,#b73487 136.5px,#d6546c 148.5px,#e66f5c 168.5px,#e6705c 169.5px)"></i><i style="background:linear-gradient(90deg,#ed8351 0.5px,#e36a5f 12.5px,#d04c72 26.5px,#b0308b 36.5px,#942e91 45.5px,#8e2e92 54.5px,#9d2f8f 66.5px,#b53288 75.5px,#d8576a 87.5px,#d6546c 91.5px,#b2308a 101.5px,#8d2e92 112.5px,#862d94 120.5px,#952e91 129.5px,#b73487 139.5px,#d6536c 151.5px,#e46c5e 169.5px)"></i><i style="background:linear-gradient(90deg,#ec7f53 0.5px,#df6363 14.5px,#d04c71 24.5px,#b1308a 34.5px,#952e91 43.5px,#902e92 52.5px,#a32f8e 65.5px,#b63388 72.5px,#db5d67 87.5px,#da5a68 91.5px,#b0308b 104.5px,#8f2e92 114.5px,#872e94 122.5px,#972e90 131.5px,#b53288 140.5px,#d6546c 153.5px,#e36b5f 169.5px)"></i><i style="background:linear-gradient(90deg,#ea7857 0.5px,#d24e70 21.5px,#b0308b 32.5px,#932e91 42.5px,#902e92 51.5px,#a72f8d 64.5px,#b73486 70.5px,#d95969 84.5px,#df6363 89.5px,#cf4b72 97.5px,#b0308b 106.5px,#8e2e92 116.5px,#872e94 124.5px,#972e90 133.5px,#b73487 143.5px,#d6536c 155.5px,#e26860 169.5px)"></i><i style="background:linear-gradient(90deg,#e87459 0.5px,#d04c72 20.5px,#af308b 31.5px,#942e91 41.5px,#942e91 50.5px,#b43189 65.5px,#d7566b 80.5px,#e36a5f 88.5px,#dd5f65 93.5px,#ce4a73 100.5px,#ae308b 109.5px,#8f2e92 119.5px,#8b2e93 127.5px,#9f2f8e 137.5px,#b63388 144.5px,#d6546c 157.5px,#e16761 169.5px)"></i><i style="background:linear-gradient(90deg,#e56e5d 0.5px,#cf4c72 17.5px,#ae308b 28.5px,#912e92 39.5px,#902e92 47.5px,#af308b 61.5px,#cd4a74 73.5px,#e56e5d 88.5px,#df6363 93.5px,#d04c72 101.5px,#b0308b 110.5px,#8e2e92 120.5px,#872e94 128.5px,#992f90 138.5px,#b63288 147.5px,#d6546c 160.5px,#df6263 169.5px)"></i><i style="background:linear-gradient(90deg,#e26960 0.5px,#d04c71 14.5px,#af308b 25.5px,#912e92 36.5px,#8e2e92 44.5px,#a72f8d 56.5px,#b73486 62.5px,#d6546c 75.5px,#e7725b 88.5px,#e16861 93.5px,#cf4b72 103.5px,#af308b 112.5px,#8c2e93 122.5px,#862d94 130.5px,#962e90 140.5px,#b63387 150.5px,#d6546c 163.5px,#dc5e66 169.5px)"></i><i style="background:linear-gradient(90deg,#e16661 0.5px,#d14d71 12.5px,#b0308b 23.5px,#942e91 34.5px,#912e92 42.5px,#a92f8c 53.5px,#b93685 59.5px,#d7556b 72.5px,#e8725a 85.5px,#eb7f54 88.5px,#e97758 91.5px,#ce4a73 106.5px,#b2308a 114.5px,#922e91 123.5px,#892e93 131.5px,#962e90 141.5px,#b53288 151.5px,#d6536c 164.5px,#db5c67 169.5px)"></i><i style="background:linear-gradient(90deg,#dc5e66 0.5px,#cd4a74 9.5px,#b0308b 19.5px,#902e92 30.5px,#8a2e93 39.5px,#9e2f8f 49.5px,#b73387 57.5px,#d6546c 70.5px,#e97659 85.5px,#ec8252 88.5px,#ea7b56 91.5px,#e26860 96.5px,#d24e70 106.5px,#b0308b 115.5px,#8b2e93 125.5px,#832d95 133.5px,#8f2e92 143.5px,#b53288 155.5px,#d6536c 168.5px,#d7546b 169.5px)"></i><i style="background:linear-gradient(90deg,#d95969 0.5px,#cb4775 7.5px,#b1308b 16.5px,#912e92 27.5px,#892e93 36.5px,#982f90 45.5px,#b53288 54.5px,#d7556b 68.5px,#e87459 83.5px,#ee8a4e 87.5px,#ee894e 90.5px,#e6705c 95.5px,#d24e70 108.5px,#af308b 117.5px,#8d2e92 126.5px,#822d95 135.5px,#8e2e92 145.5px,#b63387 158.5px,#d4506e 169.5px)"></i><i style="background:linear-gradient(90deg,#d4506e 0.5px,#b1308a 12.5px,#8d2e92 24.5px,#842d94 34.5px,#942e91 43.5px,#b63387 53.5px,#d6546c 66.5px,#e97659 82.5px,#f0904a 88.5px,#ee894e 91.5px,#e6705c 96.5px,#ce4b73 110.5px,#af308b 118.5px,#892e93 128.5px,#7e2d96 137.5px,#892e93 147.5px,#b43189 161.5px,#ca4677 169.5px)"></i><i style="background:linear-gradient(90deg,#d24e70 0.5px,#ae308b 12.5px,#912e92 23.5px,#8c2e93 33.5px,#9f2f8e 42.5px,#b73486 49.5px,#d6546c 61.5px,#ea7957 78.5px,#f49d42 87.5px,#f39b45 91.5px,#e6705c 100.5px,#d04c71 113.5px,#b2308a 121.5px,#902e92 130.5px,#852d94 139.5px,#8f2e92 149.5px,#b63288 162.5px,#c84578 169.5px)"></i><i style="background:linear-gradient(90deg,#c84478 0.5px,#b0308b 8.5px,#902e92 19.5px,#882e93 29.5px,#962e90 38.5px,#b73387 47.5px,#d6546c 59.5px,#ea7957 76.5px,#f49e41 86.5px,#f49e42 91.5px,#e66f5c 102.5px,#d24e70 114.5px,#af308b 123.5px,#8e2e92 132.5px,#822d95 142.5px,#8d2e92 152.5px,#b53288 165.5px,#c03c7f 169.5px)"></i><i style="background:linear-gradient(90deg,#be3b80 0.5px,#af308b 5.5px,#8d2e92 17.5px,#872e94 27.5px,#952e91 36.5px,#b63387 45.5px,#d6536c 56.5px,#e97758 73.5px,#f49d42 84.5px,#f6a43d 89.5px,#f29548 95.5px,#e7715b 103.5px,#d14d71 116.5px,#b2308a 124.5px,#8d2e92 134.5px,#802d95 144.5px,#8b2e93 154.5px,#b53288 168.5px,#b83586 169.5px)"></i><i style="background:linear-gradient(90deg,#b53289 0.5px,#8d2e92 13.5px,#842d95 23.5px,#912e92 33.5px,#b53288 43.5px,#d6536c 54.5px,#e97758 71.5px,#f49d43 82.5px,#f7a63a 89.5px,#f19349 97.5px,#e6705c 105.5px,#cf4b72 118.5px,#b0308b 126.5px,#8c2e93 136.5px,#7e2d96 146.5px,#872e94 156.5px,#ae308b 169.5px)"></i><i style="background:linear-gradient(90deg,#a72f8d 0.5px,#862d94 12.5px,#812d95 22.5px,#922e91 32.5px,#b43189 41.5px,#d6536c 52.5px,#e97758 69.5px,#f49c43 80.5px,#f7a839 89.5px,#f29548 98.5px,#e7715b 106.5px,#d14d71 119.5px,#b2308a 127.5px,#8c2e93 137.5px,#7b2d96 147.5px,#812d95 157.5px,#a22f8e 169.5px)"></i><i style="background:linear-gradient(90deg,#9b2f8f 0.5px,#812d95 11.5px,#802d95 21.5px,#982e90 32.5px,#b73487 40.5px,#d6546c 50.5px,#e97857 67.5px,#f49d43 78.5px,#f8ab37 89.5px,#f29846 99.5px,#e6705c 108.5px,#cf4b72 121.5px,#b1308a 129.5px,#892e93 140.5px,#7a2d96 149.5px,#7f2d96 159.5px,#982e90 169.5px)"></i><i style="background:linear-gradient(90deg,#8f2e92 0.5px,#7b2d96 10.5px,#7e2d96 20.5px,#9a2f90 31.5px,#b63388 38.5px,#d6546c 48.5px,#e97758 65.5px,#f49c43 76.5px,#f8ac36 89.5px,#f19548 101.5px,#e7715b 109.5px,#d14d71 122.5px,#af308b 131.5px,#842d94 143.5px,#772e95 153.5px,#7f2d96 163.5px,#8d2e92 169.5px)"></i><i style="background:linear-gradient(90deg,#842d94 0.5px,#772d95 10.5px,#802d95 20.5px,#a52f8d 32.5px,#b53288 36.5px,#d6546c 46.5px,#ea7857 63.5px,#f49c43 74.5px,#f9ad35 89.5px,#f29747 102.5px,#e6705c 111.5px,#d04c72 124.5px,#b3308a 132.5px,#862d94 144.5px,#752e95 154.5px,#7c2d96 165.5px,#842d94 169.5px)"></i><i style="background:linear-gradient(90deg,#7c2d96 0.5px,#752e95 10.5px,#842d95 20.5px,#b63388 34.5px,#d6546c 44.5px,#ea7a56 61.5px,#f49c43 72.5px,#f9af33 89.5px,#f39946 103.5px,#e66f5c 113.5px,#cf4b72 126.5px,#ae308b 135.5px,#832d95 147.5px,#742e95 157.5px,#7b2d96 168.5px,#7d2d96 169.5px)"></i><i style="background:linear-gradient(90deg,#782d95 0.5px,#772d95 10.5px,#8c2e93 20.5px,#b53288 31.5px,#d6536c 41.5px,#ea7b56 58.5px,#f49c43 69.5px,#fab231 89.5px,#f39a45 105.5px,#e66f5c 115.5px,#d04c71 128.5px,#b2308a 137.5px,#832d95 150.5px,#752e95 160.5px,#7a2d96 169.5px)"></i><i style="background:linear-gradient(90deg,#702e94 0.5px,#752e95 10.5px,#8f2e92 20.5px,#b73487 30.5px,#d6546c 40.5px,#eb7c55 57.5px,#f49d42 69.5px,#fab132 89.5px,#f39b45 105.5px,#e66f5c 116.5px,#d14d70 129.5px,#af308b 139.5px,#802d95 152.5px,#712e95 162.5px,#732e95 169.5px)"></i><i style="background:linear-gradient(90deg,#6a2f94 0.5px,#752e95 10.5px,#992f90 21.5px,#b63388 28.5px,#d6536c 38.5px,#ea7a56 55.5px,#f49d43 68.5px,#f9af33 89.5px,#f39946 106.5px,#e7715b 116.5px,#cf4b72 131.5px,#b1308a 140.5px,#7d2d96 154.5px,#6d2e94 165.5px,#6d2e94 169.5px)"></i><i style="background:linear-gradient(90deg,#652f93 0.5px,#762e95 10.5px,#a82f8c 23.5px,#b83586 27.5px,#d6546c 37.5px,#eb7e54 55.5px,#f49d42 68.5px,#f9ae34 89.5px,#f39945 106.5px,#e56e5d 118.5px,#d04c71 132.5px,#af308b 142.5px,#7b2d96 156.5px,#6a2e94 167.5px,#692f94 169.5px)"></i><i style="background:linear-gradient(90deg,#632f93 0.5px,#7d2d96 11.5px,#b43189 24.5px,#d6546c 35.5px,#eb7c55 53.5px,#f49d43 67.5px,#f9ad35 89.5px,#f39a45 106.5px,#e56e5d 119.5px,#cf4b72 134.5px,#ae308b 144.5px,#7a2d96 158.5px,#682f93 169.5px)"></i><i style="background:linear-gradient(90deg,#682f94 0.5px,#852d94 10.5px,#b53288 21.5px,#d6546c 32.5px,#ea7b56 49.5px,#f39b44 62.5px,#f9af33 88.5px,#f49c43 107.5px,#e97758 118.5px,#cf4b72 137.5px,#ae308b 147.5px,#7b2d96 161.5px,#6c2e94 169.5px)"></i><i style="background:linear-gradient(90deg,#672f93 0.5px,#892e93 10.5px,#b63387 20.5px,#d5526d 30.5px,#eb7c55 49.5px,#f39b44 63.5px,#f8ab36 88.5px,#f39a45 107.5px,#e66f5c 121.5px,#cf4b72 138.5px,#af308b 148.5px,#7a2d96 162.5px,#6b2e94 169.5px)"></i><i style="background:linear-gradient(90deg,#692f94 0.5px,#8b2e93 9.5px,#b53288 18.5px,#d5526d 28.5px,#ea7c55 48.5px,#f39b44 64.5px,#f7a938 89.5px,#f39946 107.5px,#e66f5c 122.5px,#d14d71 139.5px,#ad308b 150.5px,#762e95 165.5px,#6c2e94 169.5px)"></i><i style="background:linear-gradient(90deg,#6d2e94 0.5px,#922e91 9.5px,#b43189 16.5px,#d6536c 27.5px,#eb7e54 48.5px,#f39b44 65.5px,#f6a63b 90.5px,#f29647 107.5px,#e56e5d 123.5px,#cf4b72 141.5px,#b0308b 151.5px,#772d95 166.5px,#6f2e94 169.5px)"></i><i style="background:linear-gradient(90deg,#712e95 0.5px,#952e91 8.5px,#b63387 15.5px,#d5526d 25.5px,#ee894e 54.5px,#f49d42 71.5px,#f5a13f 93.5px,#f19448 106.5px,#e56e5d 123.5px,#d04c72 142.5px,#ae308b 153.5px,#752e95 168.5px,#722e95 169.5px)"></i><i style="background:linear-gradient(90deg,#7a2d96 0.5px,#b43189 12.5px,#d6546c 23.5px,#ec8153 47.5px,#f39b44 67.5px,#f5a13f 92.5px,#f19448 106.5px,#e56d5d 125.5px,#d14d71 144.5px,#b0308b 155.5px,#7a2d96 169.5px)"></i><i style="background:linear-gradient(90deg,#852d94 0.5px,#b63388 10.5px,#d5536d 20.5px,#eb7f54 44.5px,#f39a45 64.5px,#f5a040 92.5px,#f19448 106.5px,#e56e5d 126.5px,#cf4b72 147.5px,#ae308b 158.5px,#832d95 169.5px)"></i><i style="background:linear-gradient(90deg,#8c2e93 0.5px,#b73486 9.5px,#d6536c 19.5px,#ed8550 49.5px,#f39b44 76.5px,#f39946 97.5px,#e97857 118.5px,#d24e70 147.5px,#af308b 159.5px,#882e94 169.5px)"></i><i style="background:linear-gradient(90deg,#962e90 0.5px,#b83486 7.5px,#d6536c 17.5px,#e7725b 37.5px,#ef8b4d 55.5px,#f39a45 85.5px,#f0904b 102.5px,#e46c5e 127.5px,#d14e70 149.5px,#b0308b 161.5px,#912e92 169.5px)"></i><i style="background:linear-gradient(90deg,#a12f8e 0.5px,#b83586 5.5px,#d6536c 15.5px,#e7715b 35.5px,#ee894e 55.5px,#f29647 87.5px,#ed8650 107.5px,#e46d5e 127.5px,#d34f6f 150.5px,#b1308b 163.5px,#992f90 169.5px)"></i><i style="background:linear-gradient(90deg,#ac308b 0.5px,#ca4677 8.5px,#d7566b 14.5px,#e7715b 34.5px,#ee884f 54.5px,#f19249 88.5px,#eb7e54 111.5px,#e36a5f 130.5px,#d14d70 153.5px,#ae308b 166.5px,#a32f8e 169.5px)"></i><i style="background:linear-gradient(90deg,#b3308a 0.5px,#d6536c 12.5px,#e56e5d 32.5px,#ed8451 61.5px,#ee874f 92.5px,#da5a68 145.5px,#ce4a73 155.5px,#af308b 167.5px,#a72f8d 169.5px)"></i><i style="background:linear-gradient(90deg,#bd3982 0.5px,#d6536c 9.5px,#e56e5d 28.5px,#ec8351 56.5px,#ee874f 91.5px,#da5b68 147.5px,#ce4a73 158.5px,#b3308a 169.5px)"></i><i style="background:linear-gradient(90deg,#c33f7d 0.5px,#d6546c 8.5px,#e56e5d 28.5px,#eb7f53 60.5px,#eb7f54 94.5px,#d95969 149.5px,#cf4b73 159.5px,#b83586 169.5px)"></i><i style="background:linear-gradient(90deg,#cd4974 0.5px,#da5a68 8.5px,#e7715b 28.5px,#ec8053 55.5px,#ec8053 94.5px,#da5b68 151.5px,#cd4a74 163.5px,#c03d7f 169.5px)"></i><i style="background:linear-gradient(90deg,#d04c72 0.5px,#e26860 18.5px,#ea7957 56.5px,#e97659 96.5px,#db5c67 149.5px,#ce4b73 163.5px,#c23f7d 169.5px)"></i><i style="background:linear-gradient(90deg,#d6536c 0.5px,#e46c5e 20.5px,#ea7a56 57.5px,#e87459 98.5px,#db5d67 151.5px,#cf4b72 166.5px,#c94677 169.5px)"></i><i style="background:linear-gradient(90deg,#d8586a 0.5px,#e56f5d 21.5px,#ea7957 57.5px,#e7715b 104.5px,#db5c67 154.5px,#cf4b72 169.5px)"></i><i style="background:linear-gradient(90deg,#d95869 0.5px,#e46d5e 22.5px,#e7715b 76.5px,#dd6065 144.5px,#d14d71 168.5px,#cf4b72 169.5px)"></i></div><div class="hm" style="left:639px;top:22px;width:12px;height:162px;background:linear-gradient(180deg,#eee72a 0.5px,#f4dc2a 6.5px,#f8d02b 12.5px,#f9c12c 18.5px,#fbb32f 24.5px,#f8aa37 30.5px,#f5a040 36.5px,#f19448 42.5px,#ec8252 48.5px,#e7725b 54.5px,#e3695f 60.5px,#de6164 66.5px,#d95969 72.5px,#d5516d 78.5px,#cb4776 84.5px,#bf3c7f 90.5px,#b43189 96.5px,#a52f8d 102.5px,#962e90 108.5px,#872e94 114.5px,#782d95 120.5px,#6a2f94 126.5px,#5c3092 132.5px,#4e3190 138.5px,#43318d 144.5px,#3a3188 150.5px,#313084 156.5px,#293080 161.5px)"></div><svg width="685" height="414" viewBox="0 0 685 414"><text x="0" y="7.8" font-size="15.5" font-weight="bold" fill="#111" transform="translate(-0.5 0) scale(1.08 1)">a</text><text x="17" y="17" font-size="10" text-anchor="start" fill="#3a3a3a" >FLG</text><text x="16.5" y="35.5" font-size="10" text-anchor="start" fill="#3a3a3a" >hBN</text><text x="6.6" y="54.3" font-size="10" text-anchor="start" fill="#3a3a3a" >BL MoS</text><text x="42.5" y="57.8" font-size="7" text-anchor="start" fill="#3a3a3a" >2</text><text x="16.5" y="95" font-size="10" text-anchor="start" fill="#3a3a3a" >hBN</text><text x="17" y="112.4" font-size="10" text-anchor="start" fill="#3a3a3a" >FLG</text><rect x="63.5" y="11.5" width="93.5" height="6" fill="#aab1dc" stroke="#5d6ab5" stroke-width="1"/><rect x="63.5" y="22.2" width="93.5" height="19" fill="#9ac4a0" stroke="#1f9a55" stroke-width="1.3"/><rect x="63.5" y="81.8" width="93.5" height="18.6" fill="#9ac4a0" stroke="#1f9a55" stroke-width="1.3"/><rect x="63.5" y="106.3" width="93.5" height="6.5" fill="#aab1dc" stroke="#5d6ab5" stroke-width="1"/><path d="M157,14.2H168.8V34.3M168.8,43.1V82M168.8,90.8V109.2H157M157,62.5H168.8" fill="none" stroke="#222" stroke-width="1.6"/><circle cx="168.8" cy="38.7" r="4.4" fill="#fff" stroke="#222" stroke-width="1.6"/><circle cx="168.8" cy="86.4" r="4.4" fill="#fff" stroke="#222" stroke-width="1.6"/><text x="175" y="43" font-size="10" font-style="italic" fill="#3a3a3a">V</text><text x="182" y="45.5" font-size="7" text-anchor="start" fill="#3a3a3a" >TG</text><text x="175" y="90.8" font-size="10" font-style="italic" fill="#3a3a3a">V</text><text x="182" y="93.3" font-size="7" text-anchor="start" fill="#3a3a3a" >BG</text><path d="M63.5,62.7H45V67.7M40.3,67.7H49.7M41.5,69.8H48.5M43,71.9H47" fill="none" stroke="#222" stroke-width="1.2"/><ellipse cx="96.5" cy="62.2" rx="5.5" ry="15.2" fill="#f4b4b4"/><ellipse cx="125" cy="62.2" rx="5.5" ry="15.2" fill="#f4b4b4"/><path d="M70.2,46.1L73.2,51.6L70.2,56.7" fill="none" stroke="#444" stroke-width="0.8"/><path d="M78.7,46.1L73.2,51.6L78.7,56.7" fill="none" stroke="#444" stroke-width="0.8"/><path d="M78.7,46.1L81.7,51.6L78.7,56.7" fill="none" stroke="#444" stroke-width="0.8"/><path d="M87.2,46.1L81.7,51.6L87.2,56.7" fill="none" stroke="#444" stroke-width="0.8"/><path d="M87.2,46.1L90.2,51.6L87.2,56.7" fill="none" stroke="#444" stroke-width="0.8"/><path d="M95.7,46.1L90.2,51.6L95.7,56.7" fill="none" stroke="#444" stroke-width="0.8"/><path d="M95.7,46.1L98.7,51.6L95.7,56.7" fill="none" stroke="#444" stroke-width="0.8"/><path d="M104.2,46.1L98.7,51.6L104.2,56.7" fill="none" stroke="#444" stroke-width="0.8"/><path d="M104.2,46.1L107.2,51.6L104.2,56.7" fill="none" stroke="#444" stroke-width="0.8"/><path d="M112.7,46.1L107.2,51.6L112.7,56.7" fill="none" stroke="#444" stroke-width="0.8"/><path d="M112.7,46.1L115.7,51.6L112.7,56.7" fill="none" stroke="#444" stroke-width="0.8"/><path d="M121.2,46.1L115.7,51.6L121.2,56.7" fill="none" stroke="#444" stroke-width="0.8"/><path d="M121.2,46.1L124.2,51.6L121.2,56.7" fill="none" stroke="#444" stroke-width="0.8"/><path d="M129.7,46.1L124.2,51.6L129.7,56.7" fill="none" stroke="#444" stroke-width="0.8"/><path d="M129.7,46.1L132.7,51.6L129.7,56.7" fill="none" stroke="#444" stroke-width="0.8"/><path d="M138.2,46.1L132.7,51.6L138.2,56.7" fill="none" stroke="#444" stroke-width="0.8"/><path d="M138.2,46.1L141.2,51.6L138.2,56.7" fill="none" stroke="#444" stroke-width="0.8"/><path d="M146.7,46.1L141.2,51.6L146.7,56.7" fill="none" stroke="#444" stroke-width="0.8"/><path d="M146.7,46.1L149.7,51.6L146.7,56.7" fill="none" stroke="#444" stroke-width="0.8"/><circle cx="70.2" cy="46.1" r="1.5" fill="#eee03c"/><circle cx="70.2" cy="56.7" r="1.5" fill="#eee03c"/><circle cx="78.7" cy="46.1" r="1.5" fill="#eee03c"/><circle cx="78.7" cy="56.7" r="1.5" fill="#eee03c"/><circle cx="87.2" cy="46.1" r="1.5" fill="#eee03c"/><circle cx="87.2" cy="56.7" r="1.5" fill="#eee03c"/><circle cx="95.7" cy="46.1" r="1.5" fill="#eee03c"/><circle cx="95.7" cy="56.7" r="1.5" fill="#eee03c"/><circle cx="104.2" cy="46.1" r="1.5" fill="#eee03c"/><circle cx="104.2" cy="56.7" r="1.5" fill="#eee03c"/><circle cx="112.7" cy="46.1" r="1.5" fill="#eee03c"/><circle cx="112.7" cy="56.7" r="1.5" fill="#eee03c"/><circle cx="121.2" cy="46.1" r="1.5" fill="#eee03c"/><circle cx="121.2" cy="56.7" r="1.5" fill="#eee03c"/><circle cx="129.7" cy="46.1" r="1.5" fill="#eee03c"/><circle cx="129.7" cy="56.7" r="1.5" fill="#eee03c"/><circle cx="138.2" cy="46.1" r="1.5" fill="#eee03c"/><circle cx="138.2" cy="56.7" r="1.5" fill="#eee03c"/><circle cx="146.7" cy="46.1" r="1.5" fill="#eee03c"/><circle cx="146.7" cy="56.7" r="1.5" fill="#eee03c"/><circle cx="73.2" cy="51.6" r="1.75" fill="#555" stroke="#111" stroke-width="0.8"/><circle cx="81.7" cy="51.6" r="1.75" fill="#555" stroke="#111" stroke-width="0.8"/><circle cx="90.2" cy="51.6" r="1.75" fill="#555" stroke="#111" stroke-width="0.8"/><circle cx="98.7" cy="51.6" r="1.75" fill="#555" stroke="#111" stroke-width="0.8"/><circle cx="107.2" cy="51.6" r="1.75" fill="#555" stroke="#111" stroke-width="0.8"/><circle cx="115.7" cy="51.6" r="1.75" fill="#555" stroke="#111" stroke-width="0.8"/><circle cx="124.2" cy="51.6" r="1.75" fill="#555" stroke="#111" stroke-width="0.8"/><circle cx="132.7" cy="51.6" r="1.75" fill="#555" stroke="#111" stroke-width="0.8"/><circle cx="141.2" cy="51.6" r="1.75" fill="#555" stroke="#111" stroke-width="0.8"/><circle cx="149.7" cy="51.6" r="1.75" fill="#555" stroke="#111" stroke-width="0.8"/><path d="M73,66.8L70,71.5L73,76.7" fill="none" stroke="#444" stroke-width="0.8"/><path d="M73,66.8L78.5,71.5L73,76.7" fill="none" stroke="#444" stroke-width="0.8"/><path d="M81.5,66.8L78.5,71.5L81.5,76.7" fill="none" stroke="#444" stroke-width="0.8"/><path d="M81.5,66.8L87,71.5L81.5,76.7" fill="none" stroke="#444" stroke-width="0.8"/><path d="M90,66.8L87,71.5L90,76.7" fill="none" stroke="#444" stroke-width="0.8"/><path d="M90,66.8L95.5,71.5L90,76.7" fill="none" stroke="#444" stroke-width="0.8"/><path d="M98.5,66.8L95.5,71.5L98.5,76.7" fill="none" stroke="#444" stroke-width="0.8"/><path d="M98.5,66.8L104,71.5L98.5,76.7" fill="none" stroke="#444" stroke-width="0.8"/><path d="M107,66.8L104,71.5L107,76.7" fill="none" stroke="#444" stroke-width="0.8"/><path d="M107,66.8L112.5,71.5L107,76.7" fill="none" stroke="#444" stroke-width="0.8"/><path d="M115.5,66.8L112.5,71.5L115.5,76.7" fill="none" stroke="#444" stroke-width="0.8"/><path d="M115.5,66.8L121,71.5L115.5,76.7" fill="none" stroke="#444" stroke-width="0.8"/><path d="M124,66.8L121,71.5L124,76.7" fill="none" stroke="#444" stroke-width="0.8"/><path d="M124,66.8L129.5,71.5L124,76.7" fill="none" stroke="#444" stroke-width="0.8"/><path d="M132.5,66.8L129.5,71.5L132.5,76.7" fill="none" stroke="#444" stroke-width="0.8"/><path d="M132.5,66.8L138,71.5L132.5,76.7" fill="none" stroke="#444" stroke-width="0.8"/><path d="M141,66.8L138,71.5L141,76.7" fill="none" stroke="#444" stroke-width="0.8"/><path d="M141,66.8L146.5,71.5L141,76.7" fill="none" stroke="#444" stroke-width="0.8"/><path d="M149.5,66.8L146.5,71.5L149.5,76.7" fill="none" stroke="#444" stroke-width="0.8"/><circle cx="73" cy="66.8" r="1.5" fill="#eee03c"/><circle cx="73" cy="76.7" r="1.5" fill="#eee03c"/><circle cx="81.5" cy="66.8" r="1.5" fill="#eee03c"/><circle cx="81.5" cy="76.7" r="1.5" fill="#eee03c"/><circle cx="90" cy="66.8" r="1.5" fill="#eee03c"/><circle cx="90" cy="76.7" r="1.5" fill="#eee03c"/><circle cx="98.5" cy="66.8" r="1.5" fill="#eee03c"/><circle cx="98.5" cy="76.7" r="1.5" fill="#eee03c"/><circle cx="107" cy="66.8" r="1.5" fill="#eee03c"/><circle cx="107" cy="76.7" r="1.5" fill="#eee03c"/><circle cx="115.5" cy="66.8" r="1.5" fill="#eee03c"/><circle cx="115.5" cy="76.7" r="1.5" fill="#eee03c"/><circle cx="124" cy="66.8" r="1.5" fill="#eee03c"/><circle cx="124" cy="76.7" r="1.5" fill="#eee03c"/><circle cx="132.5" cy="66.8" r="1.5" fill="#eee03c"/><circle cx="132.5" cy="76.7" r="1.5" fill="#eee03c"/><circle cx="141" cy="66.8" r="1.5" fill="#eee03c"/><circle cx="141" cy="76.7" r="1.5" fill="#eee03c"/><circle cx="149.5" cy="66.8" r="1.5" fill="#eee03c"/><circle cx="149.5" cy="76.7" r="1.5" fill="#eee03c"/><circle cx="70" cy="71.5" r="1.75" fill="#555" stroke="#111" stroke-width="0.8"/><circle cx="78.5" cy="71.5" r="1.75" fill="#555" stroke="#111" stroke-width="0.8"/><circle cx="87" cy="71.5" r="1.75" fill="#555" stroke="#111" stroke-width="0.8"/><circle cx="95.5" cy="71.5" r="1.75" fill="#555" stroke="#111" stroke-width="0.8"/><circle cx="104" cy="71.5" r="1.75" fill="#555" stroke="#111" stroke-width="0.8"/><circle cx="112.5" cy="71.5" r="1.75" fill="#555" stroke="#111" stroke-width="0.8"/><circle cx="121" cy="71.5" r="1.75" fill="#555" stroke="#111" stroke-width="0.8"/><circle cx="129.5" cy="71.5" r="1.75" fill="#555" stroke="#111" stroke-width="0.8"/><circle cx="138" cy="71.5" r="1.75" fill="#555" stroke="#111" stroke-width="0.8"/><circle cx="146.5" cy="71.5" r="1.75" fill="#555" stroke="#111" stroke-width="0.8"/><ellipse cx="96.5" cy="62.2" rx="5.5" ry="15.2" fill="#f4a8a8" opacity="0.55"/><ellipse cx="125" cy="62.2" rx="5.5" ry="15.2" fill="#f4a8a8" opacity="0.55"/><circle cx="96.6" cy="51.6" r="3.4" fill="#8a70b8"/><path d="M94.6,51.6H98.6" stroke="#fff" stroke-width="1"/><circle cx="125" cy="71.5" r="3.4" fill="#8a70b8"/><path d="M123,71.5H127" stroke="#fff" stroke-width="1"/><path d="M93.7,64.7H98.7M96.2,62.2V67.2M122.3,59H127.3M124.8,56.5V61.5" stroke="#fff" stroke-width="1"/><text x="0" y="143.5" font-size="15.5" font-weight="bold" fill="#111" transform="translate(-0.2 0) scale(1.08 1)">b</text><defs><filter id="bl" x="-20%" y="-50%" width="140%" height="200%"><feGaussianBlur stdDeviation="1.6"/></filter><filter id="bl2" x="-50%" y="-10%" width="200%" height="120%"><feGaussianBlur stdDeviation="1"/></filter><linearGradient id="gpu" x1="0" y1="0" x2="0" y2="1"><stop offset="0" stop-color="#b0a8dc" stop-opacity="0.3"/><stop offset="1" stop-color="#b0a8dc" stop-opacity="1"/></linearGradient><linearGradient id="gpk" x1="0" y1="0" x2="0" y2="1"><stop offset="0" stop-color="#f0b4bf" stop-opacity="0.3"/><stop offset="1" stop-color="#f0b4bf" stop-opacity="1"/></linearGradient></defs><ellipse cx="43.3" cy="179.5" rx="2.8" ry="25.5" fill="#e0e2e3"/><ellipse cx="54.9" cy="189.3" rx="2.9" ry="55" fill="#e0e2e3"/><ellipse cx="101.2" cy="171.7" rx="56" ry="7.5" fill="url(#gpk)" transform="rotate(-41.3 101.2 171.7)"/><ellipse cx="101.2" cy="171.7" rx="56" ry="7.5" fill="url(#gpu)" style="mix-blend-mode:multiply" transform="rotate(41.3 101.2 171.7)"/><path d="M41.5,143H87" stroke="#5538a8" stroke-width="1.8"/><path d="M117.7,143H163.5" stroke="#e4507a" stroke-width="1.8"/><path d="M35.5,135.5V144.8" stroke="#5538a8" stroke-width="1.6"/><path d="M32.7,144.8L35.5,150.3L38.3,144.8z" fill="#5538a8"/><path d="M168.3,150.5V141.2" stroke="#e4507a" stroke-width="1.6"/><path d="M165.5,141.2L168.3,135.7L171.1,141.2z" fill="#e4507a"/><path d="M41.5,159.4H87" stroke="#e4507a" stroke-width="1.8"/><path d="M117.7,159.4H163.5" stroke="#5538a8" stroke-width="1.8"/><path d="M35.5,166.9V157.6" stroke="#e4507a" stroke-width="1.6"/><path d="M32.7,157.6L35.5,152.1L38.3,157.6z" fill="#e4507a"/><path d="M168.3,151.9V161.2" stroke="#5538a8" stroke-width="1.6"/><path d="M165.5,161.2L168.3,166.7L171.1,161.2z" fill="#5538a8"/><path d="M41.5,204.5H87" stroke="#e4507a" stroke-width="1.8"/><path d="M117.7,204.5H163.5" stroke="#5538a8" stroke-width="1.8"/><path d="M35.5,212V202.7" stroke="#e4507a" stroke-width="1.6"/><path d="M32.7,202.7L35.5,197.2L38.3,202.7z" fill="#e4507a"/><path d="M168.3,197V206.3" stroke="#5538a8" stroke-width="1.6"/><path d="M165.5,206.3L168.3,211.8L171.1,206.3z" fill="#5538a8"/><path d="M41.5,238.1H87" stroke="#5538a8" stroke-width="1.8"/><path d="M117.7,238.1H163.5" stroke="#e4507a" stroke-width="1.8"/><path d="M35.5,230.6V239.9" stroke="#5538a8" stroke-width="1.6"/><path d="M32.7,239.9L35.5,245.4L38.3,239.9z" fill="#5538a8"/><path d="M168.3,245.6V236.3" stroke="#e4507a" stroke-width="1.6"/><path d="M165.5,236.3L168.3,230.8L171.1,236.3z" fill="#e4507a"/><text x="89.5" y="146.2" font-size="10.5" text-anchor="start" fill="#3a3a3a" >+1</text><text x="104.3" y="146.2" font-size="10.5" text-anchor="start" fill="#3a3a3a" >−1</text><text x="89.5" y="162.6" font-size="10.5" text-anchor="start" fill="#3a3a3a" >+1</text><text x="104.3" y="162.6" font-size="10.5" text-anchor="start" fill="#3a3a3a" >−1</text><text x="0" y="0" font-size="10.5" fill="#3a3a3a" transform="translate(90.3 207.9) scale(0.9 1)">O</text><text x="0" y="0" font-size="10.5" fill="#3a3a3a" transform="translate(109.1 207.9) scale(0.9 1)">O</text><text x="0" y="0" font-size="10.5" fill="#3a3a3a" transform="translate(90.3 241.5) scale(0.9 1)">O</text><text x="0" y="0" font-size="10.5" fill="#3a3a3a" transform="translate(109.1 241.5) scale(0.9 1)">O</text><text x="40.3" y="183.3" font-size="10" text-anchor="start" fill="#3a3a3a" >A</text><text x="51.3" y="183.3" font-size="10" text-anchor="start" fill="#3a3a3a" >B</text><text x="76" y="195" font-size="10" text-anchor="start" fill="#e4507a" >IX</text><text x="84.5" y="197.5" font-size="6.5" text-anchor="start" fill="#e4507a" >B</text><text x="115.4" y="195" font-size="10" text-anchor="start" fill="#5538a8" >IX</text><text x="124" y="197.5" font-size="6.5" text-anchor="start" fill="#5538a8" >T</text><text x="50" y="256" font-size="10" font-style="italic" fill="#3a3a3a">L</text><text x="55.5" y="258.5" font-size="6.5" text-anchor="start" fill="#3a3a3a" >T</text><text x="60" y="256" font-size="10" font-style="italic" fill="#3a3a3a">, K</text><text x="126.3" y="256" font-size="10" font-style="italic" fill="#3a3a3a">L</text><text x="131.8" y="258.5" font-size="6.5" text-anchor="start" fill="#3a3a3a" >B</text><text x="136.5" y="256" font-size="10" font-style="italic" fill="#3a3a3a">, K</text><ellipse cx="43.3" cy="320.8" rx="2.8" ry="25.5" fill="#e0e2e3"/><ellipse cx="54.9" cy="330.6" rx="2.9" ry="55" fill="#e0e2e3"/><ellipse cx="101.2" cy="313" rx="56" ry="7.5" fill="url(#gpu)" transform="rotate(-41.3 101.2 313)"/><ellipse cx="101.2" cy="313" rx="56" ry="7.5" fill="url(#gpk)" style="mix-blend-mode:multiply" transform="rotate(41.3 101.2 313)"/><path d="M41.5,284.3H87" stroke="#e4507a" stroke-width="1.8"/><path d="M117.7,284.3H163.5" stroke="#5538a8" stroke-width="1.8"/><path d="M35.5,291.8V282.5" stroke="#e4507a" stroke-width="1.6"/><path d="M32.7,282.5L35.5,277L38.3,282.5z" fill="#e4507a"/><path d="M168.3,276.8V286.1" stroke="#5538a8" stroke-width="1.6"/><path d="M165.5,286.1L168.3,291.6L171.1,286.1z" fill="#5538a8"/><path d="M41.5,300.7H87" stroke="#5538a8" stroke-width="1.8"/><path d="M117.7,300.7H163.5" stroke="#e4507a" stroke-width="1.8"/><path d="M35.5,293.2V302.5" stroke="#5538a8" stroke-width="1.6"/><path d="M32.7,302.5L35.5,308L38.3,302.5z" fill="#5538a8"/><path d="M168.3,308.2V298.9" stroke="#e4507a" stroke-width="1.6"/><path d="M165.5,298.9L168.3,293.4L171.1,298.9z" fill="#e4507a"/><path d="M41.5,345.8H87" stroke="#5538a8" stroke-width="1.8"/><path d="M117.7,345.8H163.5" stroke="#e4507a" stroke-width="1.8"/><path d="M35.5,338.3V347.6" stroke="#5538a8" stroke-width="1.6"/><path d="M32.7,347.6L35.5,353.1L38.3,347.6z" fill="#5538a8"/><path d="M168.3,353.3V344" stroke="#e4507a" stroke-width="1.6"/><path d="M165.5,344L168.3,338.5L171.1,344z" fill="#e4507a"/><path d="M41.5,379.4H87" stroke="#e4507a" stroke-width="1.8"/><path d="M117.7,379.4H163.5" stroke="#5538a8" stroke-width="1.8"/><path d="M35.5,386.9V377.6" stroke="#e4507a" stroke-width="1.6"/><path d="M32.7,377.6L35.5,372.1L38.3,377.6z" fill="#e4507a"/><path d="M168.3,371.9V381.2" stroke="#5538a8" stroke-width="1.6"/><path d="M165.5,381.2L168.3,386.7L171.1,381.2z" fill="#5538a8"/><text x="89.5" y="287.5" font-size="10.5" text-anchor="start" fill="#3a3a3a" >−1</text><text x="105.5" y="287.5" font-size="10.5" text-anchor="start" fill="#3a3a3a" >+1</text><text x="89.5" y="303.9" font-size="10.5" text-anchor="start" fill="#3a3a3a" >−1</text><text x="105.5" y="303.9" font-size="10.5" text-anchor="start" fill="#3a3a3a" >+1</text><text x="0" y="0" font-size="10.5" fill="#3a3a3a" transform="translate(90.3 349.2) scale(0.9 1)">O</text><text x="0" y="0" font-size="10.5" fill="#3a3a3a" transform="translate(109.1 349.2) scale(0.9 1)">O</text><text x="0" y="0" font-size="10.5" fill="#3a3a3a" transform="translate(90.3 382.8) scale(0.9 1)">O</text><text x="0" y="0" font-size="10.5" fill="#3a3a3a" transform="translate(109.1 382.8) scale(0.9 1)">O</text><text x="40.3" y="324.6" font-size="10" text-anchor="start" fill="#3a3a3a" >A</text><text x="51.3" y="324.6" font-size="10" text-anchor="start" fill="#3a3a3a" >B</text><text x="76" y="336.3" font-size="10" text-anchor="start" fill="#5538a8" >IX</text><text x="84.5" y="338.8" font-size="6.5" text-anchor="start" fill="#5538a8" >B</text><text x="115.4" y="336.3" font-size="10" text-anchor="start" fill="#e4507a" >IX</text><text x="124" y="338.8" font-size="6.5" text-anchor="start" fill="#e4507a" >T</text><text x="50" y="397.3" font-size="10" font-style="italic" fill="#3a3a3a">L</text><text x="55.5" y="399.8" font-size="6.5" text-anchor="start" fill="#3a3a3a" >T</text><text x="60" y="397.3" font-size="10" font-style="italic" fill="#3a3a3a">, K′</text><text x="126.3" y="397.3" font-size="10" font-style="italic" fill="#3a3a3a">L</text><text x="131.8" y="399.8" font-size="6.5" text-anchor="start" fill="#3a3a3a" >B</text><text x="136.5" y="397.3" font-size="10" font-style="italic" fill="#3a3a3a">, K′</text><text x="0" y="0" font-size="15.5" font-weight="bold" fill="#111" transform="translate(205.3 8.5) scale(1.08 1)">c</text><text x="0" y="0" font-size="15.5" font-weight="bold" fill="#111" transform="translate(451.5 8.5) scale(1.08 1)">e</text><text x="0" y="0" font-size="15.5" font-weight="bold" fill="#111" transform="translate(205.6 236.5) scale(1.08 1)">d</text><text x="0" y="0" font-size="15.5" font-weight="bold" fill="#111" transform="translate(452.5 236.5) scale(1.08 1)">f</text><rect x="256.8" y="21.5" width="169.1" height="161.7" fill="none" stroke="#6a6a50" stroke-width="0.8"/><path d="M253.6,44.9H256.8" stroke="#777" stroke-width="0.8"/><path d="M253.6,79.3H256.8" stroke="#777" stroke-width="0.8"/><path d="M253.6,113.7H256.8" stroke="#777" stroke-width="0.8"/><path d="M253.6,148.1H256.8" stroke="#777" stroke-width="0.8"/><path d="M253.6,182.5H256.8" stroke="#777" stroke-width="0.8"/><rect x="451.2" y="21.5" width="170.1" height="161.7" fill="none" stroke="#6a6a50" stroke-width="0.8"/><path d="M448,44.9H451.2" stroke="#777" stroke-width="0.8"/><path d="M448,79.3H451.2" stroke="#777" stroke-width="0.8"/><path d="M448,113.7H451.2" stroke="#777" stroke-width="0.8"/><path d="M448,148.1H451.2" stroke="#777" stroke-width="0.8"/><path d="M448,182.5H451.2" stroke="#777" stroke-width="0.8"/><text x="248.3" y="48.2" font-size="9.9" text-anchor="end" fill="#3a3a3a" >2,040</text><text x="248.3" y="82.6" font-size="9.9" text-anchor="end" fill="#3a3a3a" >2,020</text><text x="248.3" y="117" font-size="9.9" text-anchor="end" fill="#3a3a3a" >2,000</text><text x="248.3" y="151.4" font-size="9.9" text-anchor="end" fill="#3a3a3a" >1,980</text><text x="248.3" y="185.8" font-size="9.9" text-anchor="end" fill="#3a3a3a" >1,960</text><path d="M285.4,183.2V186.5" stroke="#777" stroke-width="0.8"/><text x="285.4" y="198" font-size="9.5" text-anchor="middle" fill="#3a3a3a" >−1.5</text><path d="M341.7,183.2V186.5" stroke="#777" stroke-width="0.8"/><text x="341.7" y="198" font-size="9.5" text-anchor="middle" fill="#3a3a3a" >−0.5</text><path d="M398,183.2V186.5" stroke="#777" stroke-width="0.8"/><text x="398" y="198" font-size="9.5" text-anchor="middle" fill="#3a3a3a" >0.5</text><path d="M480,183.2V186.5" stroke="#777" stroke-width="0.8"/><text x="480" y="198" font-size="9.5" text-anchor="middle" fill="#3a3a3a" >−0.56</text><path d="M536.3,183.2V186.5" stroke="#777" stroke-width="0.8"/><text x="536.3" y="198" font-size="9.5" text-anchor="middle" fill="#3a3a3a" >0.44</text><path d="M592.5,183.2V186.5" stroke="#777" stroke-width="0.8"/><text x="592.5" y="198" font-size="9.5" text-anchor="middle" fill="#3a3a3a" >1.44</text><text transform="translate(215.5,102) rotate(-90)" font-size="10" text-anchor="middle" fill="#3a3a3a" textLength="66" lengthAdjust="spacingAndGlyphs">Energy (meV)</text><text x="325.7" y="213.5" font-size="10" font-style="italic" fill="#3a3a3a">V</text><text x="332.2" y="216" font-size="7" text-anchor="start" fill="#3a3a3a" >TG</text><text x="344.4" y="213.8" font-size="10.5" text-anchor="start" fill="#3a3a3a" >(V)</text><text x="520.3" y="213.5" font-size="10" font-style="italic" fill="#3a3a3a">V</text><text x="526.8" y="216" font-size="7" text-anchor="start" fill="#3a3a3a" >TG</text><text x="539" y="213.8" font-size="10.5" text-anchor="start" fill="#3a3a3a" >(V)</text><text x="316.4" y="17.8" font-size="10.3" text-anchor="start" fill="#3a3a3a" ><tspan font-style="italic">n</tspan> = 0 cm<tspan font-size="7" dy="-4.8">−2</tspan></text><text x="495" y="17.8" font-size="10" text-anchor="start" fill="#3a3a3a" ><tspan font-style="italic">n</tspan> = 1.3 × 10<tspan font-size="7" dy="-4.8">12</tspan><tspan dy="4.8"> cm</tspan><tspan font-size="7" dy="-4.8">−2</tspan></text><path d="M285.4,21.5V183" stroke="#e8402a" stroke-width="0.9" stroke-dasharray="3,2"/><path d="M342.5,21.5V183" stroke="#3a7ab0" stroke-width="0.9" stroke-dasharray="3,2"/><path d="M483.4,21.5V183" stroke="#e8402a" stroke-width="0.9" stroke-dasharray="3,2"/><path d="M539.5,21.5V183" stroke="#3a7ab0" stroke-width="0.9" stroke-dasharray="3,2"/><text x="290.8" y="67" font-size="10" text-anchor="start" fill="#222" >IX</text><text x="299.5" y="69.5" font-size="6.5" text-anchor="start" fill="#222" >T</text><text x="289.6" y="173.3" font-size="10" text-anchor="start" fill="#222" >IX</text><text x="298.3" y="175.8" font-size="6.5" text-anchor="start" fill="#222" >B</text><text x="488.1" y="68" font-size="10" text-anchor="start" fill="#222" >IX</text><text x="496.8" y="70.5" font-size="6.5" text-anchor="start" fill="#222" >T</text><text x="488" y="175" font-size="10" text-anchor="start" fill="#222" >IX</text><text x="496.7" y="177.5" font-size="6.5" text-anchor="start" fill="#222" >B</text><rect x="639.2" y="21.5" width="12" height="162.5" fill="none" stroke="#555" stroke-width="0.8"/><path d="M651.2,32.2H655" stroke="#777" stroke-width="0.8"/><text x="659.8" y="35.6" font-size="10" text-anchor="start" fill="#3a3a3a" >0.04</text><path d="M651.2,75.1H655" stroke="#777" stroke-width="0.8"/><text x="659.8" y="78.5" font-size="10" text-anchor="start" fill="#3a3a3a" >0</text><path d="M651.2,118.2H655" stroke="#777" stroke-width="0.8"/><text x="659.8" y="121.6" font-size="10" text-anchor="start" fill="#3a3a3a" >−0.04</text><path d="M651.2,161.5H655" stroke="#777" stroke-width="0.8"/><text x="659.8" y="164.9" font-size="10" text-anchor="start" fill="#3a3a3a" >−0.08</text><text transform="translate(626.8,102) rotate(90)" font-size="10.5" text-anchor="middle" fill="#3a3a3a">ΔR/R<tspan font-size="7" dy="2">0</tspan></text><rect x="256.8" y="241.8" width="168.7" height="139.6" fill="none" stroke="#777" stroke-width="0.9"/><path d="M253.3,241.8H256.8" stroke="#777" stroke-width="0.8"/><path d="M253.3,266.75H256.8" stroke="#777" stroke-width="0.8"/><path d="M253.3,291.7H256.8" stroke="#777" stroke-width="0.8"/><path d="M253.3,316.65H256.8" stroke="#777" stroke-width="0.8"/><path d="M253.3,341.6H256.8" stroke="#777" stroke-width="0.8"/><path d="M253.3,366.55H256.8" stroke="#777" stroke-width="0.8"/><path d="M256.8,381.4V385" stroke="#777" stroke-width="0.8"/><path d="M292.9,381.4V385" stroke="#777" stroke-width="0.8"/><path d="M329,381.4V385" stroke="#777" stroke-width="0.8"/><path d="M365.1,381.4V385" stroke="#777" stroke-width="0.8"/><path d="M401.2,381.4V385" stroke="#777" stroke-width="0.8"/><rect x="451.7" y="241.8" width="169.8" height="139.6" fill="none" stroke="#777" stroke-width="0.9"/><path d="M448.2,241.8H451.7" stroke="#777" stroke-width="0.8"/><path d="M448.2,266.75H451.7" stroke="#777" stroke-width="0.8"/><path d="M448.2,291.7H451.7" stroke="#777" stroke-width="0.8"/><path d="M448.2,316.65H451.7" stroke="#777" stroke-width="0.8"/><path d="M448.2,341.6H451.7" stroke="#777" stroke-width="0.8"/><path d="M448.2,366.55H451.7" stroke="#777" stroke-width="0.8"/><path d="M451.7,381.4V385" stroke="#777" stroke-width="0.8"/><path d="M487.8,381.4V385" stroke="#777" stroke-width="0.8"/><path d="M523.9,381.4V385" stroke="#777" stroke-width="0.8"/><path d="M560,381.4V385" stroke="#777" stroke-width="0.8"/><path d="M596.1,381.4V385" stroke="#777" stroke-width="0.8"/><text x="248.9" y="245.1" font-size="9.9" text-anchor="end" fill="#3a3a3a" >0.10</text><text x="248.9" y="270.05" font-size="9.9" text-anchor="end" fill="#3a3a3a" >0.05</text><text x="248.9" y="295" font-size="9.9" text-anchor="end" fill="#3a3a3a" >0</text><text x="248.9" y="319.95" font-size="9.9" text-anchor="end" fill="#3a3a3a" >−0.05</text><text x="248.9" y="344.9" font-size="9.9" text-anchor="end" fill="#3a3a3a" >−0.10</text><text x="248.9" y="369.85" font-size="9.9" text-anchor="end" fill="#3a3a3a" >−0.15</text><text x="256.8" y="396" font-size="9.5" text-anchor="middle" fill="#3a3a3a" >1,960</text><text x="292.9" y="396" font-size="9.5" text-anchor="middle" fill="#3a3a3a" >1,980</text><text x="329" y="396" font-size="9.5" text-anchor="middle" fill="#3a3a3a" >2,000</text><text x="365.1" y="396" font-size="9.5" text-anchor="middle" fill="#3a3a3a" >2,020</text><text x="401.2" y="396" font-size="9.5" text-anchor="middle" fill="#3a3a3a" >2,040</text><text x="451.7" y="396" font-size="9.5" text-anchor="middle" fill="#3a3a3a" >1,960</text><text x="487.8" y="396" font-size="9.5" text-anchor="middle" fill="#3a3a3a" >1,980</text><text x="523.9" y="396" font-size="9.5" text-anchor="middle" fill="#3a3a3a" >2,000</text><text x="560" y="396" font-size="9.5" text-anchor="middle" fill="#3a3a3a" >2,020</text><text x="596.1" y="396" font-size="9.5" text-anchor="middle" fill="#3a3a3a" >2,040</text><text x="337.4" y="410.5" font-size="10" text-anchor="middle" fill="#3a3a3a" textLength="66" lengthAdjust="spacingAndGlyphs">Energy (meV)</text><text x="536.8" y="410.5" font-size="10" text-anchor="middle" fill="#3a3a3a" textLength="66" lengthAdjust="spacingAndGlyphs">Energy (meV)</text><text transform="translate(216.5,311) rotate(-90)" font-size="10" text-anchor="middle" fill="#3a3a3a"><tspan>Δ</tspan><tspan font-style="italic">R</tspan>/<tspan font-style="italic">R</tspan><tspan font-size="7" dy="2" font-style="italic">0</tspan></text><clipPath id="cd"><rect x="256.8" y="241.8" width="168.7" height="139.6"/></clipPath><clipPath id="cf"><rect x="451.7" y="241.8" width="169.8" height="139.6"/></clipPath><g clip-path="url(#cd)" fill="none" stroke-width="1.6" stroke-linejoin="round"><path d="M257.0,294.8 257.5,289.0 258.0,291.5 258.5,289.7 259.0,289.2 259.5,288.8 260.0,286.2 260.5,287.6 261.0,286.5 261.5,290.6 262.0,286.8 262.5,285.8 263.0,285.5 263.5,284.8 264.0,284.1 264.5,284.6 265.0,285.4 265.5,284.5 266.0,285.7 266.5,284.4 267.0,284.6 267.5,286.3 268.0,285.3 268.5,284.4 269.0,284.9 269.5,286.0 270.0,287.8 270.5,285.7 271.0,286.1 271.5,287.8 272.0,286.0 272.5,287.0 273.0,288.8 273.5,288.9 274.0,288.9 274.5,290.2 275.0,287.0 275.5,292.0 276.0,290.5 276.5,290.6 277.0,293.6 277.5,294.9 278.0,294.6 278.5,294.8 279.0,297.0 279.5,297.9 280.0,300.5 280.5,300.8 281.0,301.2 281.5,303.3 282.0,302.9 282.5,303.2 283.0,305.9 283.5,306.9 284.0,307.0 284.5,307.4 285.0,309.6 285.5,307.5 286.0,312.0 286.5,312.7 287.0,311.3 287.5,314.0 288.0,313.7 288.5,316.4 289.0,314.0 289.5,315.9 290.0,318.4 290.5,319.4 291.0,316.3 291.5,318.6 292.0,319.9 292.5,319.2 293.0,321.9 293.5,319.0 294.0,320.8 294.5,319.2 295.0,321.9 295.5,320.2 296.0,319.6 296.5,317.9 297.0,321.4 297.5,320.1 298.0,319.7 298.5,319.7 299.0,318.4 299.5,316.8 300.0,316.1 300.5,315.5 301.0,317.2 301.5,313.5 302.0,313.8 302.5,313.4 303.0,313.2 303.5,312.9 304.0,310.1 304.5,308.8 305.0,309.8 305.5,310.4 306.0,309.0 306.5,307.6 307.0,306.1 307.5,305.9 308.0,304.5 308.5,304.7 309.0,302.1 309.5,302.3 310.0,301.1 310.5,301.0 311.0,299.8 311.5,301.5 312.0,299.5 312.5,298.7 313.0,294.0 313.5,295.1 314.0,294.0 314.5,294.6 315.0,290.8 315.5,293.9 316.0,293.1 316.5,289.9 317.0,289.7 317.5,289.3 318.0,289.8 318.5,290.0 319.0,291.1 319.5,288.2 320.0,289.0 320.5,288.0 321.0,289.6 321.5,288.3 322.0,288.9 322.5,286.1 323.0,287.1 323.5,286.6 324.0,289.5 324.5,289.0 325.0,288.5 325.5,289.0 326.0,290.9 326.5,290.5 327.0,291.3 327.5,293.9 328.0,297.3 328.5,295.6 329.0,296.6 329.5,297.4 330.0,298.7 330.5,302.2 331.0,304.2 331.5,304.8 332.0,306.8 332.5,308.2 333.0,309.9 333.5,309.7 334.0,312.6 334.5,314.8 335.0,315.5 335.5,317.4 336.0,318.6 336.5,320.7 337.0,323.5 337.5,323.5 338.0,325.2 338.5,327.6 339.0,328.6 339.5,330.9 340.0,327.8 340.5,332.0 341.0,331.4 341.5,332.9 342.0,334.3 342.5,335.0 343.0,335.3 343.5,334.6 344.0,336.3 344.5,334.1 345.0,334.0 345.5,334.6 346.0,332.5 346.5,334.7 347.0,332.6 347.5,332.8 348.0,329.2 348.5,327.6 349.0,326.8 349.5,326.0 350.0,323.0 350.5,322.4 351.0,320.3 351.5,320.4 352.0,316.1 352.5,316.2 353.0,312.5 353.5,310.3 354.0,308.7 354.5,306.4 355.0,306.0 355.5,305.2 356.0,302.5 356.5,301.3 357.0,300.7 357.5,297.6 358.0,296.0 358.5,294.0 359.0,291.2 359.5,292.6 360.0,288.7 360.5,290.3 361.0,288.7 361.5,289.2 362.0,287.3 362.5,285.8 363.0,286.5 363.5,285.0 364.0,284.8 364.5,284.5 365.0,283.8 365.5,283.3 366.0,282.1 366.5,282.4 367.0,279.8 367.5,281.5 368.0,279.9 368.5,282.1 369.0,281.9 369.5,277.9 370.0,279.8 370.5,279.1 371.0,277.8 371.5,279.1 372.0,277.6 372.5,275.8 373.0,277.1 373.5,276.9 374.0,276.7 374.5,274.9 375.0,276.5 375.5,276.3 376.0,273.8 376.5,273.9 377.0,274.2 377.5,273.2 378.0,275.4 378.5,273.3 379.0,271.6 379.5,271.5 380.0,271.9 380.5,274.1 381.0,271.0 381.5,271.0 382.0,271.0 382.5,270.0 383.0,272.2 383.5,268.8 384.0,269.8 384.5,268.8 385.0,269.0 385.5,266.6 386.0,269.5 386.5,267.1 387.0,266.9 387.5,265.5 388.0,265.4 388.5,266.4 389.0,266.6 389.5,266.0 390.0,266.1 390.5,265.2 391.0,264.1 391.5,264.7 392.0,264.1 392.5,263.0 393.0,263.6 393.5,263.8 394.0,262.4 394.5,261.4 395.0,262.2 395.5,263.2 396.0,260.6 396.5,260.4 397.0,260.0 397.5,261.2 398.0,257.5 398.5,259.6 399.0,260.2 399.5,257.6 400.0,259.9 400.5,258.5 401.0,257.0 401.5,257.5 402.0,255.3 402.5,256.0 403.0,258.4 403.5,255.1 404.0,257.8 404.5,255.3 405.0,256.2 405.5,254.9 406.0,252.1 406.5,253.6 407.0,254.1 407.5,252.4 408.0,251.8 408.5,253.4 409.0,252.0 409.5,250.6 410.0,251.4 410.5,252.8 411.0,251.1 411.5,252.3 412.0,252.7 412.5,250.7 413.0,249.2 413.5,248.7 414.0,249.8 414.5,250.5 415.0,249.6 415.5,249.6 416.0,248.3 416.5,248.8 417.0,247.7 417.5,247.6 418.0,246.2 418.5,245.7 419.0,246.6 419.5,245.6 420.0,245.5 420.5,247.1 421.0,245.9 421.5,249.0 422.0,246.6 422.5,244.6 423.0,245.9 423.5,245.2 424.0,243.8 424.5,245.5 425.0,243.1 425.5,240.4" stroke="#e8202a"/><path d="M257.0,296.0 257.5,295.8 258.0,296.6 258.5,295.4 259.0,293.2 259.5,293.9 260.0,292.9 260.5,293.0 261.0,291.2 261.5,292.0 262.0,291.6 262.5,292.0 263.0,290.7 263.5,290.3 264.0,288.5 264.5,290.7 265.0,287.3 265.5,289.0 266.0,287.6 266.5,286.8 267.0,286.6 267.5,286.2 268.0,286.6 268.5,285.9 269.0,286.7 269.5,284.0 270.0,285.0 270.5,284.1 271.0,284.9 271.5,282.6 272.0,283.6 272.5,283.6 273.0,282.2 273.5,283.6 274.0,282.7 274.5,283.0 275.0,282.7 275.5,281.0 276.0,280.8 276.5,281.0 277.0,281.3 277.5,281.1 278.0,279.8 278.5,279.6 279.0,279.2 279.5,279.1 280.0,279.1 280.5,278.9 281.0,280.2 281.5,278.2 282.0,278.1 282.5,278.4 283.0,277.3 283.5,277.5 284.0,277.6 284.5,278.0 285.0,276.3 285.5,278.1 286.0,276.8 286.5,277.0 287.0,277.4 287.5,277.2 288.0,277.4 288.5,276.8 289.0,276.6 289.5,276.8 290.0,275.9 290.5,277.6 291.0,276.4 291.5,276.4 292.0,279.1 292.5,278.0 293.0,277.8 293.5,280.5 294.0,279.6 294.5,281.2 295.0,280.7 295.5,281.9 296.0,281.7 296.5,282.5 297.0,284.1 297.5,285.7 298.0,287.3 298.5,289.5 299.0,288.1 299.5,290.7 300.0,290.7 300.5,292.1 301.0,292.4 301.5,293.5 302.0,295.2 302.5,296.1 303.0,298.1 303.5,298.8 304.0,301.4 304.5,301.9 305.0,303.4 305.5,305.9 306.0,307.4 306.5,309.1 307.0,311.3 307.5,313.7 308.0,317.1 308.5,319.6 309.0,322.0 309.5,325.2 310.0,327.1 310.5,330.8 311.0,332.4 311.5,337.3 312.0,339.4 312.5,342.4 313.0,345.6 313.5,348.1 314.0,350.7 314.5,354.4 315.0,356.2 315.5,358.0 316.0,361.2 316.5,361.9 317.0,366.3 317.5,366.8 318.0,368.6 318.5,371.5 319.0,372.6 319.5,372.1 320.0,373.0 320.5,373.7 321.0,374.2 321.5,372.6 322.0,372.3 322.5,372.2 323.0,370.5 323.5,369.6 324.0,368.1 324.5,365.2 325.0,363.6 325.5,360.4 326.0,360.0 326.5,358.9 327.0,355.0 327.5,354.3 328.0,351.7 328.5,348.5 329.0,346.1 329.5,343.7 330.0,340.6 330.5,338.6 331.0,336.5 331.5,334.7 332.0,332.6 332.5,329.5 333.0,328.7 333.5,325.8 334.0,324.6 334.5,323.5 335.0,322.0 335.5,320.6 336.0,319.6 336.5,317.8 337.0,316.5 337.5,315.7 338.0,315.3 338.5,313.4 339.0,313.6 339.5,311.3 340.0,308.0 340.5,308.6 341.0,309.0 341.5,306.8 342.0,305.5 342.5,304.1 343.0,304.7 343.5,303.5 344.0,302.3 344.5,301.2 345.0,301.0 345.5,299.6 346.0,297.3 346.5,297.9 347.0,296.6 347.5,295.6 348.0,295.4 348.5,294.2 349.0,291.4 349.5,293.8 350.0,292.7 350.5,291.3 351.0,290.4 351.5,290.2 352.0,288.6 352.5,289.1 353.0,288.1 353.5,287.5 354.0,286.5 354.5,286.1 355.0,286.8 355.5,286.4 356.0,285.3 356.5,284.4 357.0,283.3 357.5,283.9 358.0,284.1 358.5,281.3 359.0,282.8 359.5,280.0 360.0,280.8 360.5,280.9 361.0,279.2 361.5,278.6 362.0,279.4 362.5,279.5 363.0,278.1 363.5,278.9 364.0,277.0 364.5,278.4 365.0,276.9 365.5,276.5 366.0,276.4 366.5,275.8 367.0,276.5 367.5,276.4 368.0,274.8 368.5,274.0 369.0,272.9 369.5,272.8 370.0,273.0 370.5,272.5 371.0,272.2 371.5,271.9 372.0,271.9 372.5,270.2 373.0,270.1 373.5,271.2 374.0,270.7 374.5,269.3 375.0,270.3 375.5,268.5 376.0,268.5 376.5,267.0 377.0,268.5 377.5,267.6 378.0,268.0 378.5,267.4 379.0,266.6 379.5,266.3 380.0,266.7 380.5,265.4 381.0,265.1 381.5,264.9 382.0,265.1 382.5,264.9 383.0,265.2 383.5,263.5 384.0,264.1 384.5,262.5 385.0,263.1 385.5,262.4 386.0,263.2 386.5,262.1 387.0,261.1 387.5,261.5 388.0,261.0 388.5,260.3 389.0,260.0 389.5,259.2 390.0,261.5 390.5,259.4 391.0,259.7 391.5,257.9 392.0,257.7 392.5,258.1 393.0,257.8 393.5,258.2 394.0,256.7 394.5,257.5 395.0,257.9 395.5,255.9 396.0,256.9 396.5,255.3 397.0,256.0 397.5,255.8 398.0,256.5 398.5,254.5 399.0,254.9 399.5,255.2 400.0,253.4 400.5,254.0 401.0,253.2 401.5,253.0 402.0,253.8 402.5,253.6 403.0,254.6 403.5,253.6 404.0,253.3 404.5,252.0 405.0,251.7 405.5,251.8 406.0,249.9 406.5,252.4 407.0,250.6 407.5,250.1 408.0,250.3 408.5,251.0 409.0,251.0 409.5,249.7 410.0,250.0 410.5,249.5 411.0,248.6 411.5,249.2 412.0,248.9 412.5,247.6 413.0,249.3 413.5,247.2 414.0,248.3 414.5,247.2 415.0,247.1 415.5,247.0 416.0,247.8 416.5,246.3 417.0,246.8 417.5,247.9 418.0,246.1 418.5,246.4 419.0,246.7 419.5,245.7 420.0,246.2 420.5,245.3 421.0,246.1 421.5,245.4 422.0,244.6 422.5,246.1 423.0,244.9 423.5,244.6 424.0,244.0 424.5,244.1 425.0,244.2 425.5,244.3" stroke="#2a7ab8"/></g><g clip-path="url(#cf)" fill="none" stroke-width="1.6" stroke-linejoin="round"><path d="M452.0,299.1 452.5,297.7 453.0,298.1 453.5,298.0 454.0,298.0 454.5,296.2 455.0,294.7 455.5,293.7 456.0,294.8 456.5,295.1 457.0,293.1 457.5,290.9 458.0,290.8 458.5,293.2 459.0,291.4 459.5,289.0 460.0,290.7 460.5,289.4 461.0,290.0 461.5,290.2 462.0,289.9 462.5,291.3 463.0,290.6 463.5,290.1 464.0,291.2 464.5,291.6 465.0,288.9 465.5,290.4 466.0,289.6 466.5,290.5 467.0,289.3 467.5,290.7 468.0,290.7 468.5,290.4 469.0,289.6 469.5,290.7 470.0,290.6 470.5,291.1 471.0,293.9 471.5,293.7 472.0,297.6 472.5,298.7 473.0,297.3 473.5,301.6 474.0,301.9 474.5,305.0 475.0,306.9 475.5,306.5 476.0,310.3 476.5,312.1 477.0,315.2 477.5,314.4 478.0,318.1 478.5,317.4 479.0,319.5 479.5,319.9 480.0,323.3 480.5,322.9 481.0,325.2 481.5,323.3 482.0,323.5 482.5,323.3 483.0,321.5 483.5,321.9 484.0,323.1 484.5,320.8 485.0,321.1 485.5,320.4 486.0,320.6 486.5,319.0 487.0,318.6 487.5,318.5 488.0,317.7 488.5,316.0 489.0,317.2 489.5,314.1 490.0,313.5 490.5,312.7 491.0,314.5 491.5,312.3 492.0,310.9 492.5,310.1 493.0,311.1 493.5,308.8 494.0,307.9 494.5,309.3 495.0,306.7 495.5,307.1 496.0,306.9 496.5,305.9 497.0,305.9 497.5,307.0 498.0,304.6 498.5,303.4 499.0,302.4 499.5,303.8 500.0,303.3 500.5,303.6 501.0,302.4 501.5,302.1 502.0,301.4 502.5,301.3 503.0,301.7 503.5,300.8 504.0,300.9 504.5,302.6 505.0,300.7 505.5,298.1 506.0,301.4 506.5,299.5 507.0,297.8 507.5,299.5 508.0,298.2 508.5,297.2 509.0,296.9 509.5,296.2 510.0,297.0 510.5,297.8 511.0,296.0 511.5,296.6 512.0,297.9 512.5,294.2 513.0,295.6 513.5,294.7 514.0,293.6 514.5,293.4 515.0,294.3 515.5,294.6 516.0,293.3 516.5,293.7 517.0,294.3 517.5,293.6 518.0,294.0 518.5,293.4 519.0,293.3 519.5,294.6 520.0,293.1 520.5,292.4 521.0,292.9 521.5,291.0 522.0,291.6 522.5,292.7 523.0,292.4 523.5,293.3 524.0,291.5 524.5,289.8 525.0,293.4 525.5,292.4 526.0,289.9 526.5,292.5 527.0,291.0 527.5,288.9 528.0,290.3 528.5,290.2 529.0,292.5 529.5,289.8 530.0,290.4 530.5,290.4 531.0,290.4 531.5,289.9 532.0,291.2 532.5,292.3 533.0,292.0 533.5,290.5 534.0,290.5 534.5,292.1 535.0,291.5 535.5,291.9 536.0,291.1 536.5,295.4 537.0,294.6 537.5,292.9 538.0,295.3 538.5,296.2 539.0,292.5 539.5,294.9 540.0,295.5 540.5,297.1 541.0,296.7 541.5,297.0 542.0,297.6 542.5,300.1 543.0,300.8 543.5,298.3 544.0,298.3 544.5,302.9 545.0,299.4 545.5,300.6 546.0,302.0 546.5,303.2 547.0,304.6 547.5,304.7 548.0,304.2 548.5,306.5 549.0,307.1 549.5,309.7 550.0,308.4 550.5,307.7 551.0,308.8 551.5,312.2 552.0,310.6 552.5,309.5 553.0,311.6 553.5,312.7 554.0,314.3 554.5,312.1 555.0,314.0 555.5,314.2 556.0,312.4 556.5,312.7 557.0,314.6 557.5,314.1 558.0,312.7 558.5,311.6 559.0,311.8 559.5,309.7 560.0,309.1 560.5,307.4 561.0,307.5 561.5,306.6 562.0,308.8 562.5,304.6 563.0,305.3 563.5,304.3 564.0,301.7 564.5,302.2 565.0,297.6 565.5,299.1 566.0,299.0 566.5,294.5 567.0,294.9 567.5,296.5 568.0,294.2 568.5,292.5 569.0,292.6 569.5,291.8 570.0,292.6 570.5,291.7 571.0,290.3 571.5,289.3 572.0,289.4 572.5,290.3 573.0,288.7 573.5,288.5 574.0,287.1 574.5,285.3 575.0,285.4 575.5,286.4 576.0,285.3 576.5,283.6 577.0,282.4 577.5,283.8 578.0,282.8 578.5,282.3 579.0,281.9 579.5,282.1 580.0,281.6 580.5,281.9 581.0,281.5 581.5,281.5 582.0,280.5 582.5,278.8 583.0,278.7 583.5,279.0 584.0,277.7 584.5,278.3 585.0,278.5 585.5,276.0 586.0,274.6 586.5,277.5 587.0,275.8 587.5,276.3 588.0,273.7 588.5,276.7 589.0,275.3 589.5,274.0 590.0,273.4 590.5,273.6 591.0,273.0 591.5,272.5 592.0,271.3 592.5,273.6 593.0,271.8 593.5,271.7 594.0,271.4 594.5,268.4 595.0,271.3 595.5,270.0 596.0,269.8 596.5,269.9 597.0,268.4 597.5,270.2 598.0,268.2 598.5,267.7 599.0,267.4 599.5,268.3 600.0,268.7 600.5,266.9 601.0,265.6 601.5,268.2 602.0,265.6 602.5,267.8 603.0,266.1 603.5,265.2 604.0,265.0 604.5,265.9 605.0,266.1 605.5,264.6 606.0,265.6 606.5,266.6 607.0,263.9 607.5,262.6 608.0,262.4 608.5,261.8 609.0,262.4 609.5,262.0 610.0,261.1 610.5,262.9 611.0,259.2 611.5,260.4 612.0,263.8 612.5,262.5 613.0,261.7 613.5,261.4 614.0,262.6 614.5,261.0 615.0,260.3 615.5,258.6 616.0,259.7 616.5,258.7 617.0,258.5 617.5,258.3 618.0,258.8 618.5,258.3 619.0,259.4 619.5,256.8 620.0,257.8 620.5,259.8 621.0,257.6 621.5,258.7" stroke="#e8202a"/><path d="M452.0,306.0 452.5,305.5 453.0,301.4 453.5,302.1 454.0,302.0 454.5,301.3 455.0,299.9 455.5,299.6 456.0,297.9 456.5,297.3 457.0,296.2 457.5,294.6 458.0,294.1 458.5,294.2 459.0,292.9 459.5,293.6 460.0,293.0 460.5,292.7 461.0,290.9 461.5,291.3 462.0,289.2 462.5,288.8 463.0,289.0 463.5,288.7 464.0,286.9 464.5,286.4 465.0,287.5 465.5,286.3 466.0,287.4 466.5,286.5 467.0,286.2 467.5,285.8 468.0,286.0 468.5,285.0 469.0,285.7 469.5,284.3 470.0,284.3 470.5,283.8 471.0,284.6 471.5,284.0 472.0,283.2 472.5,285.1 473.0,283.3 473.5,283.4 474.0,283.7 474.5,284.5 475.0,283.1 475.5,283.6 476.0,283.1 476.5,282.0 477.0,283.5 477.5,283.7 478.0,282.7 478.5,282.9 479.0,281.8 479.5,281.8 480.0,282.6 480.5,283.3 481.0,282.5 481.5,283.0 482.0,283.5 482.5,282.9 483.0,283.2 483.5,283.8 484.0,282.1 484.5,283.7 485.0,282.1 485.5,284.1 486.0,284.4 486.5,284.4 487.0,284.7 487.5,286.1 488.0,286.5 488.5,287.7 489.0,287.8 489.5,289.7 490.0,289.5 490.5,291.0 491.0,291.9 491.5,294.0 492.0,293.1 492.5,294.9 493.0,297.0 493.5,296.8 494.0,297.4 494.5,299.5 495.0,300.1 495.5,301.8 496.0,301.5 496.5,303.2 497.0,304.4 497.5,305.5 498.0,304.8 498.5,307.5 499.0,306.8 499.5,307.3 500.0,308.8 500.5,310.6 501.0,311.3 501.5,312.9 502.0,314.0 502.5,314.9 503.0,315.4 503.5,317.8 504.0,315.8 504.5,316.9 505.0,318.4 505.5,318.4 506.0,317.9 506.5,319.4 507.0,319.5 507.5,318.3 508.0,320.6 508.5,320.8 509.0,320.7 509.5,319.4 510.0,319.8 510.5,318.8 511.0,319.7 511.5,318.9 512.0,319.6 512.5,318.9 513.0,319.7 513.5,319.5 514.0,319.6 514.5,317.5 515.0,317.2 515.5,318.6 516.0,317.8 516.5,318.4 517.0,318.2 517.5,318.0 518.0,318.4 518.5,318.0 519.0,317.9 519.5,316.8 520.0,318.6 520.5,317.4 521.0,318.1 521.5,317.5 522.0,318.2 522.5,317.4 523.0,317.5 523.5,317.5 524.0,317.0 524.5,317.2 525.0,317.6 525.5,317.8 526.0,317.3 526.5,319.8 527.0,317.6 527.5,318.2 528.0,320.3 528.5,318.2 529.0,319.4 529.5,319.5 530.0,319.0 530.5,318.3 531.0,318.3 531.5,319.5 532.0,319.9 532.5,318.2 533.0,319.9 533.5,319.4 534.0,320.6 534.5,320.1 535.0,319.4 535.5,319.7 536.0,319.9 536.5,320.6 537.0,321.5 537.5,319.2 538.0,318.6 538.5,318.6 539.0,317.6 539.5,317.5 540.0,316.7 540.5,315.7 541.0,314.5 541.5,314.4 542.0,314.2 542.5,312.8 543.0,313.1 543.5,311.9 544.0,310.3 544.5,310.9 545.0,308.1 545.5,309.0 546.0,308.7 546.5,306.5 547.0,305.9 547.5,306.0 548.0,305.7 548.5,304.5 549.0,303.8 549.5,303.8 550.0,302.8 550.5,301.2 551.0,301.4 551.5,301.0 552.0,299.5 552.5,300.3 553.0,299.0 553.5,299.5 554.0,297.5 554.5,297.4 555.0,296.5 555.5,297.9 556.0,297.4 556.5,297.0 557.0,296.6 557.5,295.7 558.0,295.2 558.5,292.9 559.0,293.8 559.5,292.8 560.0,292.4 560.5,291.3 561.0,292.6 561.5,291.4 562.0,289.7 562.5,290.7 563.0,289.8 563.5,288.7 564.0,288.8 564.5,288.0 565.0,286.5 565.5,286.6 566.0,287.6 566.5,287.0 567.0,286.5 567.5,285.1 568.0,285.1 568.5,285.2 569.0,285.2 569.5,283.7 570.0,283.2 570.5,284.4 571.0,283.2 571.5,282.5 572.0,281.9 572.5,281.6 573.0,282.8 573.5,282.0 574.0,280.6 574.5,279.7 575.0,281.4 575.5,280.9 576.0,280.3 576.5,279.7 577.0,277.4 577.5,277.5 578.0,278.4 578.5,277.5 579.0,277.5 579.5,276.6 580.0,276.2 580.5,276.7 581.0,275.7 581.5,275.6 582.0,275.5 582.5,275.1 583.0,275.4 583.5,275.3 584.0,273.0 584.5,273.5 585.0,272.9 585.5,273.5 586.0,272.0 586.5,272.9 587.0,272.6 587.5,272.2 588.0,270.8 588.5,271.0 589.0,270.1 589.5,270.8 590.0,270.9 590.5,268.9 591.0,269.1 591.5,269.3 592.0,268.8 592.5,269.9 593.0,268.5 593.5,268.5 594.0,267.2 594.5,268.8 595.0,267.6 595.5,267.8 596.0,267.0 596.5,265.2 597.0,265.3 597.5,265.3 598.0,266.3 598.5,265.3 599.0,265.7 599.5,265.4 600.0,265.1 600.5,265.3 601.0,264.6 601.5,263.0 602.0,263.5 602.5,264.9 603.0,262.7 603.5,264.2 604.0,264.2 604.5,262.3 605.0,262.8 605.5,261.3 606.0,262.6 606.5,261.3 607.0,260.7 607.5,261.1 608.0,260.9 608.5,260.6 609.0,260.9 609.5,260.4 610.0,259.9 610.5,260.8 611.0,261.6 611.5,259.7 612.0,259.0 612.5,258.6 613.0,259.5 613.5,258.7 614.0,258.7 614.5,257.1 615.0,257.5 615.5,257.3 616.0,258.6 616.5,257.6 617.0,255.8 617.5,257.7 618.0,258.0 618.5,257.9 619.0,254.9 619.5,256.8 620.0,257.1 620.5,256.8 621.0,256.0 621.5,254.8" stroke="#2a7ab8"/></g><text x="275" y="332.8" font-size="10" text-anchor="start" fill="#3a3a3a" >IX</text><text x="284.5" y="335.5" font-size="6.5" text-anchor="start" fill="#3a3a3a" >B</text><text x="355.7" y="332.8" font-size="10" text-anchor="start" fill="#3a3a3a" >IX</text><text x="365.2" y="335.5" font-size="6.5" text-anchor="start" fill="#3a3a3a" >T</text><text x="463.3" y="332.7" font-size="10" text-anchor="start" fill="#3a3a3a" >IX</text><text x="472.8" y="335.4" font-size="6.5" text-anchor="start" fill="#3a3a3a" >B</text><text x="550.7" y="332.8" font-size="10" text-anchor="start" fill="#3a3a3a" >IX</text><text x="560.2" y="335.5" font-size="6.5" text-anchor="start" fill="#3a3a3a" >T</text><path d="M336,354H345" stroke="#2a7ab8" stroke-width="1.6"/><text x="351.3" y="357.8" font-size="10.3" font-style="italic" fill="#3a3a3a">V</text><text x="358.3" y="360.5" font-size="7.2" text-anchor="start" fill="#3a3a3a" >TG</text><text x="369.5" y="357.8" font-size="10.8" text-anchor="start" fill="#3a3a3a" >= −0.48 V</text><path d="M336,369.8H345" stroke="#e8202a" stroke-width="1.6"/><text x="351.3" y="373.6" font-size="10.3" font-style="italic" fill="#3a3a3a">V</text><text x="358.3" y="376.3" font-size="7.2" text-anchor="start" fill="#3a3a3a" >TG</text><text x="369.5" y="373.6" font-size="10.8" text-anchor="start" fill="#3a3a3a" >= −1.50 V</text><path d="M530.2,353.3H539.2" stroke="#2a7ab8" stroke-width="1.6"/><text x="545.5" y="357.1" font-size="10.3" font-style="italic" fill="#3a3a3a">V</text><text x="552.5" y="359.8" font-size="7.2" text-anchor="start" fill="#3a3a3a" >TG</text><text x="563.7" y="357.1" font-size="10.8" text-anchor="start" fill="#3a3a3a" >= 0.50 V</text><path d="M530.2,369.1H539.2" stroke="#e8202a" stroke-width="1.6"/><text x="545.5" y="372.9" font-size="10.3" font-style="italic" fill="#3a3a3a">V</text><text x="552.5" y="375.6" font-size="7.2" text-anchor="start" fill="#3a3a3a" >TG</text><text x="563.7" y="372.9" font-size="10.8" text-anchor="start" fill="#3a3a3a" >= −0.50 V</text></svg></div></body></html>
